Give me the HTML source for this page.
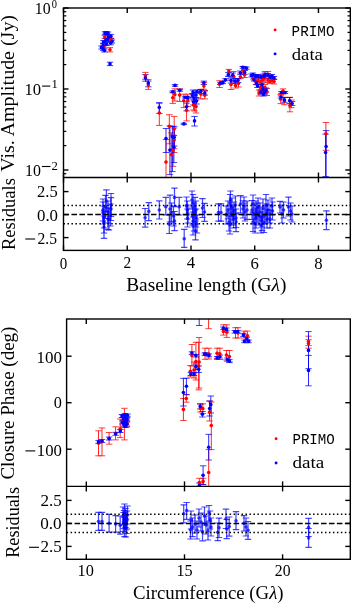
<!DOCTYPE html>
<html><head><meta charset="utf-8"><style>
html,body{margin:0;padding:0;background:#fff;width:351px;height:603px;overflow:hidden}
svg{display:block}
text{fill:#000}
svg{-webkit-font-smoothing:antialiased;will-change:transform}
</style></head><body>
<svg width="351" height="603" viewBox="0 0 351 603">
<defs>
<clipPath id="c1"><rect x="63.5" y="8" width="286.8" height="169.5"/></clipPath>
<clipPath id="c1r"><rect x="63.5" y="177.5" width="286.8" height="72.9"/></clipPath>
<clipPath id="c2"><rect x="66.6" y="319" width="283.7" height="167.4"/></clipPath>
<clipPath id="c2r"><rect x="66.6" y="486.4" width="283.7" height="72.9"/></clipPath>
</defs>
<g clip-path="url(#c1)">
<path d="M104.80 35.40V38.20" stroke="#ff0000" stroke-width="0.85" fill="none"/><path d="M101.60 35.40H108.00M101.60 38.20H108.00" stroke="#ff0000" stroke-width="0.75" fill="none"/>
<path d="M111.00 38.50V40.30" stroke="#ff0000" stroke-width="0.85" fill="none"/><path d="M107.80 38.50H114.20M107.80 40.30H114.20" stroke="#ff0000" stroke-width="0.75" fill="none"/>
<path d="M103.30 45.30V48.30" stroke="#ff0000" stroke-width="0.85" fill="none"/><path d="M100.10 45.30H106.50M100.10 48.30H106.50" stroke="#ff0000" stroke-width="0.75" fill="none"/>
<path d="M110.00 47.60V51.90" stroke="#ff0000" stroke-width="0.85" fill="none"/><path d="M106.80 47.60H113.20M106.80 51.90H113.20" stroke="#ff0000" stroke-width="0.75" fill="none"/>
<path d="M145.40 72.40V79.30" stroke="#ff0000" stroke-width="0.85" fill="none"/><path d="M142.20 72.40H148.60M142.20 79.30H148.60" stroke="#ff0000" stroke-width="0.75" fill="none"/>
<path d="M148.30 81.20V89.40" stroke="#ff0000" stroke-width="0.85" fill="none"/><path d="M145.10 81.20H151.50M145.10 89.40H151.50" stroke="#ff0000" stroke-width="0.75" fill="none"/>
<path d="M159.30 103.60V125.40" stroke="#ff0000" stroke-width="0.85" fill="none"/><path d="M156.10 103.60H162.50M156.10 125.40H162.50" stroke="#ff0000" stroke-width="0.75" fill="none"/>
<path d="M166.00 139.50V190.00" stroke="#ff0000" stroke-width="0.85" fill="none"/><path d="M162.80 139.50H169.20M162.80 190.00H169.20" stroke="#ff0000" stroke-width="0.75" fill="none"/>
<path d="M169.30 114.70V143.80" stroke="#ff0000" stroke-width="0.85" fill="none"/><path d="M166.10 114.70H172.50M166.10 143.80H172.50" stroke="#ff0000" stroke-width="0.75" fill="none"/>
<path d="M174.20 116.40V148.80" stroke="#ff0000" stroke-width="0.85" fill="none"/><path d="M171.00 116.40H177.40M171.00 148.80H177.40" stroke="#ff0000" stroke-width="0.75" fill="none"/>
<path d="M171.30 132.90V190.00" stroke="#ff0000" stroke-width="0.85" fill="none"/><path d="M168.10 132.90H174.50M168.10 190.00H174.50" stroke="#ff0000" stroke-width="0.75" fill="none"/>
<path d="M173.00 135.00V166.30" stroke="#ff0000" stroke-width="0.85" fill="none"/><path d="M169.80 135.00H176.20M169.80 166.30H176.20" stroke="#ff0000" stroke-width="0.75" fill="none"/>
<path d="M174.20 128.00V152.50" stroke="#ff0000" stroke-width="0.85" fill="none"/><path d="M171.00 128.00H177.40M171.00 152.50H177.40" stroke="#ff0000" stroke-width="0.75" fill="none"/>
<path d="M174.80 88.80V101.00" stroke="#ff0000" stroke-width="0.85" fill="none"/><path d="M171.60 88.80H178.00M171.60 101.00H178.00" stroke="#ff0000" stroke-width="0.75" fill="none"/>
<path d="M172.80 92.30V103.40" stroke="#ff0000" stroke-width="0.85" fill="none"/><path d="M169.60 92.30H176.00M169.60 103.40H176.00" stroke="#ff0000" stroke-width="0.75" fill="none"/>
<path d="M179.70 88.80V101.50" stroke="#ff0000" stroke-width="0.85" fill="none"/><path d="M176.50 88.80H182.90M176.50 101.50H182.90" stroke="#ff0000" stroke-width="0.75" fill="none"/>
<path d="M183.80 94.20V107.60" stroke="#ff0000" stroke-width="0.85" fill="none"/><path d="M180.60 94.20H187.00M180.60 107.60H187.00" stroke="#ff0000" stroke-width="0.75" fill="none"/>
<path d="M187.80 94.20V106.50" stroke="#ff0000" stroke-width="0.85" fill="none"/><path d="M184.60 94.20H191.00M184.60 106.50H191.00" stroke="#ff0000" stroke-width="0.75" fill="none"/>
<path d="M186.60 101.50V120.90" stroke="#ff0000" stroke-width="0.85" fill="none"/><path d="M183.40 101.50H189.80M183.40 120.90H189.80" stroke="#ff0000" stroke-width="0.75" fill="none"/>
<path d="M193.50 100.00V110.00" stroke="#ff0000" stroke-width="0.85" fill="none"/><path d="M190.30 100.00H196.70M190.30 110.00H196.70" stroke="#ff0000" stroke-width="0.75" fill="none"/>
<path d="M196.00 100.00V113.00" stroke="#ff0000" stroke-width="0.85" fill="none"/><path d="M192.80 100.00H199.20M192.80 113.00H199.20" stroke="#ff0000" stroke-width="0.75" fill="none"/>
<path d="M194.50 97.00V111.00" stroke="#ff0000" stroke-width="0.85" fill="none"/><path d="M191.30 97.00H197.70M191.30 111.00H197.70" stroke="#ff0000" stroke-width="0.75" fill="none"/>
<path d="M203.90 82.50V89.30" stroke="#ff0000" stroke-width="0.85" fill="none"/><path d="M200.70 82.50H207.10M200.70 89.30H207.10" stroke="#ff0000" stroke-width="0.75" fill="none"/>
<path d="M200.70 89.30V98.90" stroke="#ff0000" stroke-width="0.85" fill="none"/><path d="M197.50 89.30H203.90M197.50 98.90H203.90" stroke="#ff0000" stroke-width="0.75" fill="none"/>
<path d="M204.80 90.50V98.90" stroke="#ff0000" stroke-width="0.85" fill="none"/><path d="M201.60 90.50H208.00M201.60 98.90H208.00" stroke="#ff0000" stroke-width="0.75" fill="none"/>
<path d="M219.50 80.70V87.50" stroke="#ff0000" stroke-width="0.85" fill="none"/><path d="M216.30 80.70H222.70M216.30 87.50H222.70" stroke="#ff0000" stroke-width="0.75" fill="none"/>
<path d="M228.80 69.40V75.80" stroke="#ff0000" stroke-width="0.85" fill="none"/><path d="M225.60 69.40H232.00M225.60 75.80H232.00" stroke="#ff0000" stroke-width="0.75" fill="none"/>
<path d="M233.50 71.50V82.00" stroke="#ff0000" stroke-width="0.85" fill="none"/><path d="M230.30 71.50H236.70M230.30 82.00H236.70" stroke="#ff0000" stroke-width="0.75" fill="none"/>
<path d="M231.00 80.00V89.50" stroke="#ff0000" stroke-width="0.85" fill="none"/><path d="M227.80 80.00H234.20M227.80 89.50H234.20" stroke="#ff0000" stroke-width="0.75" fill="none"/>
<path d="M235.50 81.00V88.00" stroke="#ff0000" stroke-width="0.85" fill="none"/><path d="M232.30 81.00H238.70M232.30 88.00H238.70" stroke="#ff0000" stroke-width="0.75" fill="none"/>
<path d="M238.50 79.00V87.00" stroke="#ff0000" stroke-width="0.85" fill="none"/><path d="M235.30 79.00H241.70M235.30 87.00H241.70" stroke="#ff0000" stroke-width="0.75" fill="none"/>
<path d="M242.90 66.40V73.00" stroke="#ff0000" stroke-width="0.85" fill="none"/><path d="M239.70 66.40H246.10M239.70 73.00H246.10" stroke="#ff0000" stroke-width="0.75" fill="none"/>
<path d="M244.60 70.00V77.50" stroke="#ff0000" stroke-width="0.85" fill="none"/><path d="M241.40 70.00H247.80M241.40 77.50H247.80" stroke="#ff0000" stroke-width="0.75" fill="none"/>
<path d="M240.40 73.00V78.50" stroke="#ff0000" stroke-width="0.85" fill="none"/><path d="M237.20 73.00H243.60M237.20 78.50H243.60" stroke="#ff0000" stroke-width="0.75" fill="none"/>
<path d="M253.50 76.70V79.70" stroke="#ff0000" stroke-width="0.85" fill="none"/><path d="M250.30 76.70H256.70M250.30 79.70H256.70" stroke="#ff0000" stroke-width="0.75" fill="none"/>
<path d="M263.00 74.10V82.00" stroke="#ff0000" stroke-width="0.85" fill="none"/><path d="M259.80 74.10H266.20M259.80 82.00H266.20" stroke="#ff0000" stroke-width="0.75" fill="none"/>
<path d="M268.00 71.50V82.50" stroke="#ff0000" stroke-width="0.85" fill="none"/><path d="M264.80 71.50H271.20M264.80 82.50H271.20" stroke="#ff0000" stroke-width="0.75" fill="none"/>
<path d="M272.00 77.00V82.20" stroke="#ff0000" stroke-width="0.85" fill="none"/><path d="M268.80 77.00H275.20M268.80 82.20H275.20" stroke="#ff0000" stroke-width="0.75" fill="none"/>
<path d="M265.00 71.50V81.00" stroke="#ff0000" stroke-width="0.85" fill="none"/><path d="M261.80 71.50H268.20M261.80 81.00H268.20" stroke="#ff0000" stroke-width="0.75" fill="none"/>
<path d="M260.40 84.00V91.00" stroke="#ff0000" stroke-width="0.85" fill="none"/><path d="M257.20 84.00H263.60M257.20 91.00H263.60" stroke="#ff0000" stroke-width="0.75" fill="none"/>
<path d="M266.80 88.50V95.50" stroke="#ff0000" stroke-width="0.85" fill="none"/><path d="M263.60 88.50H270.00M263.60 95.50H270.00" stroke="#ff0000" stroke-width="0.75" fill="none"/>
<path d="M265.10 84.50V91.00" stroke="#ff0000" stroke-width="0.85" fill="none"/><path d="M261.90 84.50H268.30M261.90 91.00H268.30" stroke="#ff0000" stroke-width="0.75" fill="none"/>
<path d="M258.00 77.50V82.50" stroke="#ff0000" stroke-width="0.85" fill="none"/><path d="M254.80 77.50H261.20M254.80 82.50H261.20" stroke="#ff0000" stroke-width="0.75" fill="none"/>
<path d="M261.00 78.00V84.00" stroke="#ff0000" stroke-width="0.85" fill="none"/><path d="M257.80 78.00H264.20M257.80 84.00H264.20" stroke="#ff0000" stroke-width="0.75" fill="none"/>
<path d="M270.00 78.50V83.50" stroke="#ff0000" stroke-width="0.85" fill="none"/><path d="M266.80 78.50H273.20M266.80 83.50H273.20" stroke="#ff0000" stroke-width="0.75" fill="none"/>
<path d="M274.00 79.00V84.00" stroke="#ff0000" stroke-width="0.85" fill="none"/><path d="M270.80 79.00H277.20M270.80 84.00H277.20" stroke="#ff0000" stroke-width="0.75" fill="none"/>
<path d="M256.00 80.00V84.50" stroke="#ff0000" stroke-width="0.85" fill="none"/><path d="M252.80 80.00H259.20M252.80 84.50H259.20" stroke="#ff0000" stroke-width="0.75" fill="none"/>
<path d="M262.00 87.00V93.00" stroke="#ff0000" stroke-width="0.85" fill="none"/><path d="M258.80 87.00H265.20M258.80 93.00H265.20" stroke="#ff0000" stroke-width="0.75" fill="none"/>
<path d="M259.00 90.00V96.00" stroke="#ff0000" stroke-width="0.85" fill="none"/><path d="M255.80 90.00H262.20M255.80 96.00H262.20" stroke="#ff0000" stroke-width="0.75" fill="none"/>
<path d="M283.00 88.90V94.00" stroke="#ff0000" stroke-width="0.85" fill="none"/><path d="M279.80 88.90H286.20M279.80 94.00H286.20" stroke="#ff0000" stroke-width="0.75" fill="none"/>
<path d="M280.70 94.50V103.60" stroke="#ff0000" stroke-width="0.85" fill="none"/><path d="M277.50 94.50H283.90M277.50 103.60H283.90" stroke="#ff0000" stroke-width="0.75" fill="none"/>
<path d="M284.40 97.30V104.70" stroke="#ff0000" stroke-width="0.85" fill="none"/><path d="M281.20 97.30H287.60M281.20 104.70H287.60" stroke="#ff0000" stroke-width="0.75" fill="none"/>
<path d="M289.90 97.30V111.80" stroke="#ff0000" stroke-width="0.85" fill="none"/><path d="M286.70 97.30H293.10M286.70 111.80H293.10" stroke="#ff0000" stroke-width="0.75" fill="none"/>
<path d="M291.50 100.00V107.70" stroke="#ff0000" stroke-width="0.85" fill="none"/><path d="M288.30 100.00H294.70M288.30 107.70H294.70" stroke="#ff0000" stroke-width="0.75" fill="none"/>
<path d="M325.90 122.50V150.30" stroke="#ff0000" stroke-width="0.85" fill="none"/><path d="M322.70 122.50H329.10M322.70 150.30H329.10" stroke="#ff0000" stroke-width="0.75" fill="none"/>
<path d="M106.40 31.60V34.40" stroke="#0000ff" stroke-width="0.85" fill="none"/><path d="M103.20 31.60H109.60M103.20 34.40H109.60" stroke="#0000ff" stroke-width="0.75" fill="none"/>
<path d="M111.00 34.40V38.40" stroke="#0000ff" stroke-width="0.85" fill="none"/><path d="M107.80 34.40H114.20M107.80 38.40H114.20" stroke="#0000ff" stroke-width="0.75" fill="none"/>
<path d="M105.70 38.60V41.80" stroke="#0000ff" stroke-width="0.85" fill="none"/><path d="M102.50 38.60H108.90M102.50 41.80H108.90" stroke="#0000ff" stroke-width="0.75" fill="none"/>
<path d="M110.60 41.40V44.80" stroke="#0000ff" stroke-width="0.85" fill="none"/><path d="M107.40 41.40H113.80M107.40 44.80H113.80" stroke="#0000ff" stroke-width="0.75" fill="none"/>
<path d="M103.20 43.20V46.80" stroke="#0000ff" stroke-width="0.85" fill="none"/><path d="M100.00 43.20H106.40M100.00 46.80H106.40" stroke="#0000ff" stroke-width="0.75" fill="none"/>
<path d="M103.20 47.20V50.60" stroke="#0000ff" stroke-width="0.85" fill="none"/><path d="M100.00 47.20H106.40M100.00 50.60H106.40" stroke="#0000ff" stroke-width="0.75" fill="none"/>
<path d="M110.00 62.20V65.60" stroke="#0000ff" stroke-width="0.85" fill="none"/><path d="M106.80 62.20H113.20M106.80 65.60H113.20" stroke="#0000ff" stroke-width="0.75" fill="none"/>
<path d="M105.00 31.80V34.20" stroke="#0000ff" stroke-width="0.85" fill="none"/><path d="M101.80 31.80H108.20M101.80 34.20H108.20" stroke="#0000ff" stroke-width="0.75" fill="none"/>
<path d="M108.00 32.00V34.60" stroke="#0000ff" stroke-width="0.85" fill="none"/><path d="M104.80 32.00H111.20M104.80 34.60H111.20" stroke="#0000ff" stroke-width="0.75" fill="none"/>
<path d="M108.50 35.50V38.50" stroke="#0000ff" stroke-width="0.85" fill="none"/><path d="M105.30 35.50H111.70M105.30 38.50H111.70" stroke="#0000ff" stroke-width="0.75" fill="none"/>
<path d="M107.50 38.00V41.00" stroke="#0000ff" stroke-width="0.85" fill="none"/><path d="M104.30 38.00H110.70M104.30 41.00H110.70" stroke="#0000ff" stroke-width="0.75" fill="none"/>
<path d="M103.50 40.50V43.50" stroke="#0000ff" stroke-width="0.85" fill="none"/><path d="M100.30 40.50H106.70M100.30 43.50H106.70" stroke="#0000ff" stroke-width="0.75" fill="none"/>
<path d="M112.00 40.00V43.00" stroke="#0000ff" stroke-width="0.85" fill="none"/><path d="M108.80 40.00H115.20M108.80 43.00H115.20" stroke="#0000ff" stroke-width="0.75" fill="none"/>
<path d="M106.50 42.50V45.50" stroke="#0000ff" stroke-width="0.85" fill="none"/><path d="M103.30 42.50H109.70M103.30 45.50H109.70" stroke="#0000ff" stroke-width="0.75" fill="none"/>
<path d="M101.50 46.00V49.00" stroke="#0000ff" stroke-width="0.85" fill="none"/><path d="M98.30 46.00H104.70M98.30 49.00H104.70" stroke="#0000ff" stroke-width="0.75" fill="none"/>
<path d="M104.50 49.00V52.00" stroke="#0000ff" stroke-width="0.85" fill="none"/><path d="M101.30 49.00H107.70M101.30 52.00H107.70" stroke="#0000ff" stroke-width="0.75" fill="none"/>
<path d="M145.40 74.60V81.20" stroke="#0000ff" stroke-width="0.85" fill="none"/><path d="M142.20 74.60H148.60M142.20 81.20H148.60" stroke="#0000ff" stroke-width="0.75" fill="none"/>
<path d="M148.30 79.80V86.80" stroke="#0000ff" stroke-width="0.85" fill="none"/><path d="M145.10 79.80H151.50M145.10 86.80H151.50" stroke="#0000ff" stroke-width="0.75" fill="none"/>
<path d="M159.30 102.60V113.40" stroke="#0000ff" stroke-width="0.85" fill="none"/><path d="M156.10 102.60H162.50M156.10 113.40H162.50" stroke="#0000ff" stroke-width="0.75" fill="none"/>
<path d="M166.00 128.50V152.50" stroke="#0000ff" stroke-width="0.85" fill="none"/><path d="M162.80 128.50H169.20M162.80 152.50H169.20" stroke="#0000ff" stroke-width="0.75" fill="none"/>
<path d="M174.20 126.30V146.00" stroke="#0000ff" stroke-width="0.85" fill="none"/><path d="M171.00 126.30H177.40M171.00 146.00H177.40" stroke="#0000ff" stroke-width="0.75" fill="none"/>
<path d="M173.90 135.60V162.60" stroke="#0000ff" stroke-width="0.85" fill="none"/><path d="M170.70 135.60H177.10M170.70 162.60H177.10" stroke="#0000ff" stroke-width="0.75" fill="none"/>
<path d="M169.90 126.00V174.60" stroke="#0000ff" stroke-width="0.85" fill="none"/><path d="M166.70 126.00H173.10M166.70 174.60H173.10" stroke="#0000ff" stroke-width="0.75" fill="none"/>
<path d="M172.40 126.50V171.60" stroke="#0000ff" stroke-width="0.85" fill="none"/><path d="M169.20 126.50H175.60M169.20 171.60H175.60" stroke="#0000ff" stroke-width="0.75" fill="none"/>
<path d="M175.00 84.60V86.30" stroke="#0000ff" stroke-width="0.85" fill="none"/><path d="M171.80 84.60H178.20M171.80 86.30H178.20" stroke="#0000ff" stroke-width="0.75" fill="none"/>
<path d="M172.80 90.90V92.80" stroke="#0000ff" stroke-width="0.85" fill="none"/><path d="M169.60 90.90H176.00M169.60 92.80H176.00" stroke="#0000ff" stroke-width="0.75" fill="none"/>
<path d="M179.80 89.30V91.20" stroke="#0000ff" stroke-width="0.85" fill="none"/><path d="M176.60 89.30H183.00M176.60 91.20H183.00" stroke="#0000ff" stroke-width="0.75" fill="none"/>
<path d="M185.40 96.40V98.00" stroke="#0000ff" stroke-width="0.85" fill="none"/><path d="M182.20 96.40H188.60M182.20 98.00H188.60" stroke="#0000ff" stroke-width="0.75" fill="none"/>
<path d="M187.50 96.60V98.20" stroke="#0000ff" stroke-width="0.85" fill="none"/><path d="M184.30 96.60H190.70M184.30 98.20H190.70" stroke="#0000ff" stroke-width="0.75" fill="none"/>
<path d="M186.60 103.10V110.90" stroke="#0000ff" stroke-width="0.85" fill="none"/><path d="M183.40 103.10H189.80M183.40 110.90H189.80" stroke="#0000ff" stroke-width="0.75" fill="none"/>
<path d="M183.90 123.20V124.60" stroke="#0000ff" stroke-width="0.85" fill="none"/><path d="M180.70 123.20H187.10M180.70 124.60H187.10" stroke="#0000ff" stroke-width="0.75" fill="none"/>
<path d="M194.50 116.40V126.00" stroke="#0000ff" stroke-width="0.85" fill="none"/><path d="M191.30 116.40H197.70M191.30 126.00H197.70" stroke="#0000ff" stroke-width="0.75" fill="none"/>
<path d="M193.00 90.00V94.00" stroke="#0000ff" stroke-width="0.85" fill="none"/><path d="M189.80 90.00H196.20M189.80 94.00H196.20" stroke="#0000ff" stroke-width="0.75" fill="none"/>
<path d="M196.00 92.50V97.50" stroke="#0000ff" stroke-width="0.85" fill="none"/><path d="M192.80 92.50H199.20M192.80 97.50H199.20" stroke="#0000ff" stroke-width="0.75" fill="none"/>
<path d="M194.00 95.00V101.00" stroke="#0000ff" stroke-width="0.85" fill="none"/><path d="M190.80 95.00H197.20M190.80 101.00H197.20" stroke="#0000ff" stroke-width="0.75" fill="none"/>
<path d="M196.50 98.00V104.00" stroke="#0000ff" stroke-width="0.85" fill="none"/><path d="M193.30 98.00H199.70M193.30 104.00H199.70" stroke="#0000ff" stroke-width="0.75" fill="none"/>
<path d="M193.50 99.00V105.00" stroke="#0000ff" stroke-width="0.85" fill="none"/><path d="M190.30 99.00H196.70M190.30 105.00H196.70" stroke="#0000ff" stroke-width="0.75" fill="none"/>
<path d="M192.50 93.50V97.50" stroke="#0000ff" stroke-width="0.85" fill="none"/><path d="M189.30 93.50H195.70M189.30 97.50H195.70" stroke="#0000ff" stroke-width="0.75" fill="none"/>
<path d="M197.00 90.00V93.00" stroke="#0000ff" stroke-width="0.85" fill="none"/><path d="M193.80 90.00H200.20M193.80 93.00H200.20" stroke="#0000ff" stroke-width="0.75" fill="none"/>
<path d="M203.90 81.10V84.50" stroke="#0000ff" stroke-width="0.85" fill="none"/><path d="M200.70 81.10H207.10M200.70 84.50H207.10" stroke="#0000ff" stroke-width="0.75" fill="none"/>
<path d="M200.70 89.50V93.50" stroke="#0000ff" stroke-width="0.85" fill="none"/><path d="M197.50 89.50H203.90M197.50 93.50H203.90" stroke="#0000ff" stroke-width="0.75" fill="none"/>
<path d="M204.80 91.00V95.00" stroke="#0000ff" stroke-width="0.85" fill="none"/><path d="M201.60 91.00H208.00M201.60 95.00H208.00" stroke="#0000ff" stroke-width="0.75" fill="none"/>
<path d="M220.30 82.30V84.30" stroke="#0000ff" stroke-width="0.85" fill="none"/><path d="M217.10 82.30H223.50M217.10 84.30H223.50" stroke="#0000ff" stroke-width="0.75" fill="none"/>
<path d="M228.40 72.50V76.50" stroke="#0000ff" stroke-width="0.85" fill="none"/><path d="M225.20 72.50H231.60M225.20 76.50H231.60" stroke="#0000ff" stroke-width="0.75" fill="none"/>
<path d="M232.70 73.00V77.00" stroke="#0000ff" stroke-width="0.85" fill="none"/><path d="M229.50 73.00H235.90M229.50 77.00H235.90" stroke="#0000ff" stroke-width="0.75" fill="none"/>
<path d="M225.40 78.70V80.70" stroke="#0000ff" stroke-width="0.85" fill="none"/><path d="M222.20 78.70H228.60M222.20 80.70H228.60" stroke="#0000ff" stroke-width="0.75" fill="none"/>
<path d="M222.90 81.60V83.60" stroke="#0000ff" stroke-width="0.85" fill="none"/><path d="M219.70 81.60H226.10M219.70 83.60H226.10" stroke="#0000ff" stroke-width="0.75" fill="none"/>
<path d="M231.00 78.00V83.00" stroke="#0000ff" stroke-width="0.85" fill="none"/><path d="M227.80 78.00H234.20M227.80 83.00H234.20" stroke="#0000ff" stroke-width="0.75" fill="none"/>
<path d="M235.00 78.50V83.50" stroke="#0000ff" stroke-width="0.85" fill="none"/><path d="M231.80 78.50H238.20M231.80 83.50H238.20" stroke="#0000ff" stroke-width="0.75" fill="none"/>
<path d="M238.00 78.50V82.50" stroke="#0000ff" stroke-width="0.85" fill="none"/><path d="M234.80 78.50H241.20M234.80 82.50H241.20" stroke="#0000ff" stroke-width="0.75" fill="none"/>
<path d="M240.40 71.00V74.60" stroke="#0000ff" stroke-width="0.85" fill="none"/><path d="M237.20 71.00H243.60M237.20 74.60H243.60" stroke="#0000ff" stroke-width="0.75" fill="none"/>
<path d="M242.90 66.50V68.30" stroke="#0000ff" stroke-width="0.85" fill="none"/><path d="M239.70 66.50H246.10M239.70 68.30H246.10" stroke="#0000ff" stroke-width="0.75" fill="none"/>
<path d="M244.60 70.50V74.30" stroke="#0000ff" stroke-width="0.85" fill="none"/><path d="M241.40 70.50H247.80M241.40 74.30H247.80" stroke="#0000ff" stroke-width="0.75" fill="none"/>
<path d="M246.40 67.00V69.20" stroke="#0000ff" stroke-width="0.85" fill="none"/><path d="M243.20 67.00H249.60M243.20 69.20H249.60" stroke="#0000ff" stroke-width="0.75" fill="none"/>
<path d="M253.00 73.00V76.00" stroke="#0000ff" stroke-width="0.85" fill="none"/><path d="M249.80 73.00H256.20M249.80 76.00H256.20" stroke="#0000ff" stroke-width="0.75" fill="none"/>
<path d="M255.50 74.50V77.50" stroke="#0000ff" stroke-width="0.85" fill="none"/><path d="M252.30 74.50H258.70M252.30 77.50H258.70" stroke="#0000ff" stroke-width="0.75" fill="none"/>
<path d="M254.00 78.50V81.00" stroke="#0000ff" stroke-width="0.85" fill="none"/><path d="M250.80 78.50H257.20M250.80 81.00H257.20" stroke="#0000ff" stroke-width="0.75" fill="none"/>
<path d="M261.00 75.50V78.50" stroke="#0000ff" stroke-width="0.85" fill="none"/><path d="M257.80 75.50H264.20M257.80 78.50H264.20" stroke="#0000ff" stroke-width="0.75" fill="none"/>
<path d="M268.00 73.50V76.50" stroke="#0000ff" stroke-width="0.85" fill="none"/><path d="M264.80 73.50H271.20M264.80 76.50H271.20" stroke="#0000ff" stroke-width="0.75" fill="none"/>
<path d="M272.00 74.50V77.50" stroke="#0000ff" stroke-width="0.85" fill="none"/><path d="M268.80 74.50H275.20M268.80 77.50H275.20" stroke="#0000ff" stroke-width="0.75" fill="none"/>
<path d="M265.00 73.00V76.00" stroke="#0000ff" stroke-width="0.85" fill="none"/><path d="M261.80 73.00H268.20M261.80 76.00H268.20" stroke="#0000ff" stroke-width="0.75" fill="none"/>
<path d="M256.50 81.50V84.70" stroke="#0000ff" stroke-width="0.85" fill="none"/><path d="M253.30 81.50H259.70M253.30 84.70H259.70" stroke="#0000ff" stroke-width="0.75" fill="none"/>
<path d="M262.10 83.00V86.60" stroke="#0000ff" stroke-width="0.85" fill="none"/><path d="M258.90 83.00H265.30M258.90 86.60H265.30" stroke="#0000ff" stroke-width="0.75" fill="none"/>
<path d="M263.00 87.00V91.00" stroke="#0000ff" stroke-width="0.85" fill="none"/><path d="M259.80 87.00H266.20M259.80 91.00H266.20" stroke="#0000ff" stroke-width="0.75" fill="none"/>
<path d="M260.80 89.80V94.20" stroke="#0000ff" stroke-width="0.85" fill="none"/><path d="M257.60 89.80H264.00M257.60 94.20H264.00" stroke="#0000ff" stroke-width="0.75" fill="none"/>
<path d="M264.50 90.80V94.20" stroke="#0000ff" stroke-width="0.85" fill="none"/><path d="M261.30 90.80H267.70M261.30 94.20H267.70" stroke="#0000ff" stroke-width="0.75" fill="none"/>
<path d="M258.00 74.50V77.50" stroke="#0000ff" stroke-width="0.85" fill="none"/><path d="M254.80 74.50H261.20M254.80 77.50H261.20" stroke="#0000ff" stroke-width="0.75" fill="none"/>
<path d="M264.00 75.00V78.00" stroke="#0000ff" stroke-width="0.85" fill="none"/><path d="M260.80 75.00H267.20M260.80 78.00H267.20" stroke="#0000ff" stroke-width="0.75" fill="none"/>
<path d="M270.00 75.50V78.50" stroke="#0000ff" stroke-width="0.85" fill="none"/><path d="M266.80 75.50H273.20M266.80 78.50H273.20" stroke="#0000ff" stroke-width="0.75" fill="none"/>
<path d="M274.00 76.50V79.50" stroke="#0000ff" stroke-width="0.85" fill="none"/><path d="M270.80 76.50H277.20M270.80 79.50H277.20" stroke="#0000ff" stroke-width="0.75" fill="none"/>
<path d="M251.50 74.00V77.00" stroke="#0000ff" stroke-width="0.85" fill="none"/><path d="M248.30 74.00H254.70M248.30 77.00H254.70" stroke="#0000ff" stroke-width="0.75" fill="none"/>
<path d="M257.50 84.50V87.50" stroke="#0000ff" stroke-width="0.85" fill="none"/><path d="M254.30 84.50H260.70M254.30 87.50H260.70" stroke="#0000ff" stroke-width="0.75" fill="none"/>
<path d="M266.00 88.00V92.00" stroke="#0000ff" stroke-width="0.85" fill="none"/><path d="M262.80 88.00H269.20M262.80 92.00H269.20" stroke="#0000ff" stroke-width="0.75" fill="none"/>
<path d="M263.50 93.00V96.00" stroke="#0000ff" stroke-width="0.85" fill="none"/><path d="M260.30 93.00H266.70M260.30 96.00H266.70" stroke="#0000ff" stroke-width="0.75" fill="none"/>
<path d="M281.50 91.50V93.50" stroke="#0000ff" stroke-width="0.85" fill="none"/><path d="M278.30 91.50H284.70M278.30 93.50H284.70" stroke="#0000ff" stroke-width="0.75" fill="none"/>
<path d="M285.00 91.50V93.50" stroke="#0000ff" stroke-width="0.85" fill="none"/><path d="M281.80 91.50H288.20M281.80 93.50H288.20" stroke="#0000ff" stroke-width="0.75" fill="none"/>
<path d="M280.90 95.90V98.10" stroke="#0000ff" stroke-width="0.85" fill="none"/><path d="M277.70 95.90H284.10M277.70 98.10H284.10" stroke="#0000ff" stroke-width="0.75" fill="none"/>
<path d="M284.40 97.50V102.30" stroke="#0000ff" stroke-width="0.85" fill="none"/><path d="M281.20 97.50H287.60M281.20 102.30H287.60" stroke="#0000ff" stroke-width="0.75" fill="none"/>
<path d="M289.60 97.50V103.50" stroke="#0000ff" stroke-width="0.85" fill="none"/><path d="M286.40 97.50H292.80M286.40 103.50H292.80" stroke="#0000ff" stroke-width="0.75" fill="none"/>
<path d="M292.10 101.50V105.50" stroke="#0000ff" stroke-width="0.85" fill="none"/><path d="M288.90 101.50H295.30M288.90 105.50H295.30" stroke="#0000ff" stroke-width="0.75" fill="none"/>
<path d="M326.10 130.60V190.00" stroke="#0000ff" stroke-width="0.85" fill="none"/><path d="M322.90 130.60H329.30M322.90 190.00H329.30" stroke="#0000ff" stroke-width="0.75" fill="none"/>
<path d="M325.60 134.10V176.60" stroke="#0000ff" stroke-width="0.85" fill="none"/><path d="M322.40 134.10H328.80M322.40 176.60H328.80" stroke="#0000ff" stroke-width="0.75" fill="none"/>
<circle cx="104.80" cy="36.80" r="1.8" fill="#ff0000"/>
<circle cx="111.00" cy="39.40" r="1.8" fill="#ff0000"/>
<circle cx="103.30" cy="46.80" r="1.8" fill="#ff0000"/>
<circle cx="110.00" cy="49.70" r="1.8" fill="#ff0000"/>
<circle cx="145.40" cy="75.70" r="1.8" fill="#ff0000"/>
<circle cx="148.30" cy="85.10" r="1.8" fill="#ff0000"/>
<circle cx="159.30" cy="113.00" r="1.8" fill="#ff0000"/>
<circle cx="166.00" cy="162.00" r="1.8" fill="#ff0000"/>
<circle cx="169.30" cy="126.30" r="1.8" fill="#ff0000"/>
<circle cx="174.20" cy="128.90" r="1.8" fill="#ff0000"/>
<circle cx="171.30" cy="154.80" r="1.8" fill="#ff0000"/>
<circle cx="173.00" cy="150.00" r="1.8" fill="#ff0000"/>
<circle cx="174.20" cy="140.00" r="1.8" fill="#ff0000"/>
<circle cx="174.80" cy="94.50" r="1.8" fill="#ff0000"/>
<circle cx="172.80" cy="97.70" r="1.8" fill="#ff0000"/>
<circle cx="179.70" cy="95.10" r="1.8" fill="#ff0000"/>
<circle cx="183.80" cy="100.70" r="1.8" fill="#ff0000"/>
<circle cx="187.80" cy="100.10" r="1.8" fill="#ff0000"/>
<circle cx="186.60" cy="110.30" r="1.8" fill="#ff0000"/>
<circle cx="193.50" cy="105.00" r="1.8" fill="#ff0000"/>
<circle cx="196.00" cy="106.50" r="1.8" fill="#ff0000"/>
<circle cx="194.50" cy="103.50" r="1.8" fill="#ff0000"/>
<circle cx="203.90" cy="86.10" r="1.8" fill="#ff0000"/>
<circle cx="200.70" cy="93.90" r="1.8" fill="#ff0000"/>
<circle cx="204.80" cy="95.20" r="1.8" fill="#ff0000"/>
<circle cx="219.50" cy="84.20" r="1.8" fill="#ff0000"/>
<circle cx="228.80" cy="71.10" r="1.8" fill="#ff0000"/>
<circle cx="233.50" cy="76.50" r="1.8" fill="#ff0000"/>
<circle cx="231.00" cy="84.50" r="1.8" fill="#ff0000"/>
<circle cx="235.50" cy="85.50" r="1.8" fill="#ff0000"/>
<circle cx="238.50" cy="83.50" r="1.8" fill="#ff0000"/>
<circle cx="242.90" cy="69.80" r="1.8" fill="#ff0000"/>
<circle cx="244.60" cy="75.00" r="1.8" fill="#ff0000"/>
<circle cx="240.40" cy="76.70" r="1.8" fill="#ff0000"/>
<circle cx="253.50" cy="78.20" r="1.8" fill="#ff0000"/>
<circle cx="263.00" cy="79.50" r="1.8" fill="#ff0000"/>
<circle cx="268.00" cy="80.00" r="1.8" fill="#ff0000"/>
<circle cx="272.00" cy="80.50" r="1.8" fill="#ff0000"/>
<circle cx="265.00" cy="78.00" r="1.8" fill="#ff0000"/>
<circle cx="260.40" cy="87.40" r="1.8" fill="#ff0000"/>
<circle cx="266.80" cy="92.00" r="1.8" fill="#ff0000"/>
<circle cx="265.10" cy="87.80" r="1.8" fill="#ff0000"/>
<circle cx="258.00" cy="80.00" r="1.8" fill="#ff0000"/>
<circle cx="261.00" cy="81.00" r="1.8" fill="#ff0000"/>
<circle cx="270.00" cy="81.00" r="1.8" fill="#ff0000"/>
<circle cx="274.00" cy="81.50" r="1.8" fill="#ff0000"/>
<circle cx="256.00" cy="82.00" r="1.8" fill="#ff0000"/>
<circle cx="262.00" cy="90.00" r="1.8" fill="#ff0000"/>
<circle cx="259.00" cy="93.00" r="1.8" fill="#ff0000"/>
<circle cx="283.00" cy="91.00" r="1.8" fill="#ff0000"/>
<circle cx="280.70" cy="99.20" r="1.8" fill="#ff0000"/>
<circle cx="284.40" cy="101.00" r="1.8" fill="#ff0000"/>
<circle cx="289.90" cy="105.50" r="1.8" fill="#ff0000"/>
<circle cx="291.50" cy="104.00" r="1.8" fill="#ff0000"/>
<circle cx="325.90" cy="133.80" r="1.8" fill="#ff0000"/>
<circle cx="106.40" cy="33.00" r="1.8" fill="#0000ff"/>
<circle cx="111.00" cy="36.40" r="1.8" fill="#0000ff"/>
<circle cx="105.70" cy="40.20" r="1.8" fill="#0000ff"/>
<circle cx="110.60" cy="43.10" r="1.8" fill="#0000ff"/>
<circle cx="103.20" cy="45.00" r="1.8" fill="#0000ff"/>
<circle cx="103.20" cy="48.90" r="1.8" fill="#0000ff"/>
<circle cx="110.00" cy="63.90" r="1.8" fill="#0000ff"/>
<circle cx="105.00" cy="33.00" r="1.8" fill="#0000ff"/>
<circle cx="108.00" cy="33.30" r="1.8" fill="#0000ff"/>
<circle cx="108.50" cy="37.00" r="1.8" fill="#0000ff"/>
<circle cx="107.50" cy="39.50" r="1.8" fill="#0000ff"/>
<circle cx="103.50" cy="42.00" r="1.8" fill="#0000ff"/>
<circle cx="112.00" cy="41.50" r="1.8" fill="#0000ff"/>
<circle cx="106.50" cy="44.00" r="1.8" fill="#0000ff"/>
<circle cx="101.50" cy="47.50" r="1.8" fill="#0000ff"/>
<circle cx="104.50" cy="50.50" r="1.8" fill="#0000ff"/>
<circle cx="145.40" cy="78.00" r="1.8" fill="#0000ff"/>
<circle cx="148.30" cy="83.10" r="1.8" fill="#0000ff"/>
<circle cx="159.30" cy="107.40" r="1.8" fill="#0000ff"/>
<circle cx="166.00" cy="138.50" r="1.8" fill="#0000ff"/>
<circle cx="174.20" cy="137.20" r="1.8" fill="#0000ff"/>
<circle cx="173.90" cy="147.20" r="1.8" fill="#0000ff"/>
<circle cx="169.90" cy="150.10" r="1.8" fill="#0000ff"/>
<circle cx="172.40" cy="136.70" r="1.8" fill="#0000ff"/>
<circle cx="175.00" cy="85.40" r="1.8" fill="#0000ff"/>
<circle cx="172.80" cy="91.80" r="1.8" fill="#0000ff"/>
<circle cx="179.80" cy="90.20" r="1.8" fill="#0000ff"/>
<circle cx="185.40" cy="97.20" r="1.8" fill="#0000ff"/>
<circle cx="187.50" cy="97.40" r="1.8" fill="#0000ff"/>
<circle cx="186.60" cy="106.80" r="1.8" fill="#0000ff"/>
<circle cx="183.90" cy="123.90" r="1.8" fill="#0000ff"/>
<circle cx="194.50" cy="120.90" r="1.8" fill="#0000ff"/>
<circle cx="193.00" cy="92.00" r="1.8" fill="#0000ff"/>
<circle cx="196.00" cy="95.00" r="1.8" fill="#0000ff"/>
<circle cx="194.00" cy="98.00" r="1.8" fill="#0000ff"/>
<circle cx="196.50" cy="101.00" r="1.8" fill="#0000ff"/>
<circle cx="193.50" cy="102.00" r="1.8" fill="#0000ff"/>
<circle cx="192.50" cy="95.50" r="1.8" fill="#0000ff"/>
<circle cx="197.00" cy="91.50" r="1.8" fill="#0000ff"/>
<circle cx="203.90" cy="82.90" r="1.8" fill="#0000ff"/>
<circle cx="200.70" cy="91.60" r="1.8" fill="#0000ff"/>
<circle cx="204.80" cy="93.00" r="1.8" fill="#0000ff"/>
<circle cx="220.30" cy="83.30" r="1.8" fill="#0000ff"/>
<circle cx="228.40" cy="74.50" r="1.8" fill="#0000ff"/>
<circle cx="232.70" cy="75.00" r="1.8" fill="#0000ff"/>
<circle cx="225.40" cy="79.70" r="1.8" fill="#0000ff"/>
<circle cx="222.90" cy="82.60" r="1.8" fill="#0000ff"/>
<circle cx="231.00" cy="80.50" r="1.8" fill="#0000ff"/>
<circle cx="235.00" cy="81.00" r="1.8" fill="#0000ff"/>
<circle cx="238.00" cy="80.50" r="1.8" fill="#0000ff"/>
<circle cx="240.40" cy="72.80" r="1.8" fill="#0000ff"/>
<circle cx="242.90" cy="67.30" r="1.8" fill="#0000ff"/>
<circle cx="244.60" cy="72.40" r="1.8" fill="#0000ff"/>
<circle cx="246.40" cy="68.10" r="1.8" fill="#0000ff"/>
<circle cx="253.00" cy="74.50" r="1.8" fill="#0000ff"/>
<circle cx="255.50" cy="76.00" r="1.8" fill="#0000ff"/>
<circle cx="254.00" cy="79.70" r="1.8" fill="#0000ff"/>
<circle cx="261.00" cy="77.00" r="1.8" fill="#0000ff"/>
<circle cx="268.00" cy="75.00" r="1.8" fill="#0000ff"/>
<circle cx="272.00" cy="76.00" r="1.8" fill="#0000ff"/>
<circle cx="265.00" cy="74.50" r="1.8" fill="#0000ff"/>
<circle cx="256.50" cy="83.10" r="1.8" fill="#0000ff"/>
<circle cx="262.10" cy="84.80" r="1.8" fill="#0000ff"/>
<circle cx="263.00" cy="89.10" r="1.8" fill="#0000ff"/>
<circle cx="260.80" cy="92.00" r="1.8" fill="#0000ff"/>
<circle cx="264.50" cy="92.50" r="1.8" fill="#0000ff"/>
<circle cx="258.00" cy="76.00" r="1.8" fill="#0000ff"/>
<circle cx="264.00" cy="76.50" r="1.8" fill="#0000ff"/>
<circle cx="270.00" cy="77.00" r="1.8" fill="#0000ff"/>
<circle cx="274.00" cy="78.00" r="1.8" fill="#0000ff"/>
<circle cx="251.50" cy="75.50" r="1.8" fill="#0000ff"/>
<circle cx="257.50" cy="86.00" r="1.8" fill="#0000ff"/>
<circle cx="266.00" cy="90.00" r="1.8" fill="#0000ff"/>
<circle cx="263.50" cy="94.50" r="1.8" fill="#0000ff"/>
<circle cx="281.50" cy="92.50" r="1.8" fill="#0000ff"/>
<circle cx="285.00" cy="92.50" r="1.8" fill="#0000ff"/>
<circle cx="280.90" cy="97.00" r="1.8" fill="#0000ff"/>
<circle cx="284.40" cy="99.90" r="1.8" fill="#0000ff"/>
<circle cx="289.60" cy="100.70" r="1.8" fill="#0000ff"/>
<circle cx="292.10" cy="103.60" r="1.8" fill="#0000ff"/>
<circle cx="326.10" cy="146.50" r="1.8" fill="#0000ff"/>
<circle cx="325.60" cy="152.60" r="1.8" fill="#0000ff"/>
</g>
<g clip-path="url(#c1r)">
<path d="M106.40 189.90V212.00" stroke="#0000ff" stroke-width="1.25" fill="none" stroke-opacity="0.72"/><path d="M103.20 189.90H109.60M103.20 212.00H109.60" stroke="#0000ff" stroke-width="1.2" fill="none" stroke-opacity="0.72"/>
<path d="M111.00 193.50V216.50" stroke="#0000ff" stroke-width="1.25" fill="none" stroke-opacity="0.72"/><path d="M107.80 193.50H114.20M107.80 216.50H114.20" stroke="#0000ff" stroke-width="1.2" fill="none" stroke-opacity="0.72"/>
<path d="M105.50 195.30V218.50" stroke="#0000ff" stroke-width="1.25" fill="none" stroke-opacity="0.72"/><path d="M102.30 195.30H108.70M102.30 218.50H108.70" stroke="#0000ff" stroke-width="1.2" fill="none" stroke-opacity="0.72"/>
<path d="M111.00 197.70V220.50" stroke="#0000ff" stroke-width="1.25" fill="none" stroke-opacity="0.72"/><path d="M107.80 197.70H114.20M107.80 220.50H114.20" stroke="#0000ff" stroke-width="1.2" fill="none" stroke-opacity="0.72"/>
<path d="M103.00 202.00V224.00" stroke="#0000ff" stroke-width="1.25" fill="none" stroke-opacity="0.72"/><path d="M99.80 202.00H106.20M99.80 224.00H106.20" stroke="#0000ff" stroke-width="1.2" fill="none" stroke-opacity="0.72"/>
<path d="M108.00 201.00V223.00" stroke="#0000ff" stroke-width="1.25" fill="none" stroke-opacity="0.72"/><path d="M104.80 201.00H111.20M104.80 223.00H111.20" stroke="#0000ff" stroke-width="1.2" fill="none" stroke-opacity="0.72"/>
<path d="M104.00 206.00V228.00" stroke="#0000ff" stroke-width="1.25" fill="none" stroke-opacity="0.72"/><path d="M100.80 206.00H107.20M100.80 228.00H107.20" stroke="#0000ff" stroke-width="1.2" fill="none" stroke-opacity="0.72"/>
<path d="M110.50 204.00V226.00" stroke="#0000ff" stroke-width="1.25" fill="none" stroke-opacity="0.72"/><path d="M107.30 204.00H113.70M107.30 226.00H113.70" stroke="#0000ff" stroke-width="1.2" fill="none" stroke-opacity="0.72"/>
<path d="M104.00 211.00V233.00" stroke="#0000ff" stroke-width="1.25" fill="none" stroke-opacity="0.72"/><path d="M100.80 211.00H107.20M100.80 233.00H107.20" stroke="#0000ff" stroke-width="1.2" fill="none" stroke-opacity="0.72"/>
<path d="M109.00 208.00V230.00" stroke="#0000ff" stroke-width="1.25" fill="none" stroke-opacity="0.72"/><path d="M105.80 208.00H112.20M105.80 230.00H112.20" stroke="#0000ff" stroke-width="1.2" fill="none" stroke-opacity="0.72"/>
<path d="M104.00 216.00V238.30" stroke="#0000ff" stroke-width="1.25" fill="none" stroke-opacity="0.72"/><path d="M100.80 216.00H107.20M100.80 238.30H107.20" stroke="#0000ff" stroke-width="1.2" fill="none" stroke-opacity="0.72"/>
<path d="M103.00 199.00V221.00" stroke="#0000ff" stroke-width="1.25" fill="none" stroke-opacity="0.72"/><path d="M99.80 199.00H106.20M99.80 221.00H106.20" stroke="#0000ff" stroke-width="1.2" fill="none" stroke-opacity="0.72"/>
<path d="M108.00 208.00V229.70" stroke="#0000ff" stroke-width="1.25" fill="none" stroke-opacity="0.72"/><path d="M104.80 208.00H111.20M104.80 229.70H111.20" stroke="#0000ff" stroke-width="1.2" fill="none" stroke-opacity="0.72"/>
<path d="M148.80 202.70V220.70" stroke="#0000ff" stroke-width="1.25" fill="none" stroke-opacity="0.72"/><path d="M145.60 202.70H152.00M145.60 220.70H152.00" stroke="#0000ff" stroke-width="1.2" fill="none" stroke-opacity="0.72"/>
<path d="M145.10 208.50V227.10" stroke="#0000ff" stroke-width="1.25" fill="none" stroke-opacity="0.72"/><path d="M141.90 208.50H148.30M141.90 227.10H148.30" stroke="#0000ff" stroke-width="1.2" fill="none" stroke-opacity="0.72"/>
<path d="M159.30 200.90V219.00" stroke="#0000ff" stroke-width="1.25" fill="none" stroke-opacity="0.72"/><path d="M156.10 200.90H162.50M156.10 219.00H162.50" stroke="#0000ff" stroke-width="1.2" fill="none" stroke-opacity="0.72"/>
<path d="M165.80 197.40V215.00" stroke="#0000ff" stroke-width="1.25" fill="none" stroke-opacity="0.72"/><path d="M162.60 197.40H169.00M162.60 215.00H169.00" stroke="#0000ff" stroke-width="1.2" fill="none" stroke-opacity="0.72"/>
<path d="M174.50 188.10V206.70" stroke="#0000ff" stroke-width="1.25" fill="none" stroke-opacity="0.72"/><path d="M171.30 188.10H177.70M171.30 206.70H177.70" stroke="#0000ff" stroke-width="1.2" fill="none" stroke-opacity="0.72"/>
<path d="M179.20 197.40V215.00" stroke="#0000ff" stroke-width="1.25" fill="none" stroke-opacity="0.72"/><path d="M176.00 197.40H182.40M176.00 215.00H182.40" stroke="#0000ff" stroke-width="1.2" fill="none" stroke-opacity="0.72"/>
<path d="M171.50 203.00V222.00" stroke="#0000ff" stroke-width="1.25" fill="none" stroke-opacity="0.72"/><path d="M168.30 203.00H174.70M168.30 222.00H174.70" stroke="#0000ff" stroke-width="1.2" fill="none" stroke-opacity="0.72"/>
<path d="M173.50 206.00V226.00" stroke="#0000ff" stroke-width="1.25" fill="none" stroke-opacity="0.72"/><path d="M170.30 206.00H176.70M170.30 226.00H176.70" stroke="#0000ff" stroke-width="1.2" fill="none" stroke-opacity="0.72"/>
<path d="M169.30 215.00V233.50" stroke="#0000ff" stroke-width="1.25" fill="none" stroke-opacity="0.72"/><path d="M166.10 215.00H172.50M166.10 233.50H172.50" stroke="#0000ff" stroke-width="1.2" fill="none" stroke-opacity="0.72"/>
<path d="M174.50 211.50V230.60" stroke="#0000ff" stroke-width="1.25" fill="none" stroke-opacity="0.72"/><path d="M171.30 211.50H177.70M171.30 230.60H177.70" stroke="#0000ff" stroke-width="1.2" fill="none" stroke-opacity="0.72"/>
<path d="M170.00 195.10V222.00" stroke="#0000ff" stroke-width="1.25" fill="none" stroke-opacity="0.72"/><path d="M166.80 195.10H173.20M166.80 222.00H173.20" stroke="#0000ff" stroke-width="1.2" fill="none" stroke-opacity="0.72"/>
<path d="M184.20 229.40V247.40" stroke="#0000ff" stroke-width="1.25" fill="none" stroke-opacity="0.72"/><path d="M181.00 229.40H187.40M181.00 247.40H187.40" stroke="#0000ff" stroke-width="1.2" fill="none" stroke-opacity="0.72"/>
<path d="M187.30 201.00V219.00" stroke="#0000ff" stroke-width="1.25" fill="none" stroke-opacity="0.72"/><path d="M184.10 201.00H190.50M184.10 219.00H190.50" stroke="#0000ff" stroke-width="1.2" fill="none" stroke-opacity="0.72"/>
<path d="M187.50 209.00V227.00" stroke="#0000ff" stroke-width="1.25" fill="none" stroke-opacity="0.72"/><path d="M184.30 209.00H190.70M184.30 227.00H190.70" stroke="#0000ff" stroke-width="1.2" fill="none" stroke-opacity="0.72"/>
<path d="M186.50 197.00V215.00" stroke="#0000ff" stroke-width="1.25" fill="none" stroke-opacity="0.72"/><path d="M183.30 197.00H189.70M183.30 215.00H189.70" stroke="#0000ff" stroke-width="1.2" fill="none" stroke-opacity="0.72"/>
<path d="M188.00 205.00V223.00" stroke="#0000ff" stroke-width="1.25" fill="none" stroke-opacity="0.72"/><path d="M184.80 205.00H191.20M184.80 223.00H191.20" stroke="#0000ff" stroke-width="1.2" fill="none" stroke-opacity="0.72"/>
<path d="M193.00 194.50V212.00" stroke="#0000ff" stroke-width="1.25" fill="none" stroke-opacity="0.72"/><path d="M189.80 194.50H196.20M189.80 212.00H196.20" stroke="#0000ff" stroke-width="1.2" fill="none" stroke-opacity="0.72"/>
<path d="M195.00 197.40V215.00" stroke="#0000ff" stroke-width="1.25" fill="none" stroke-opacity="0.72"/><path d="M191.80 197.40H198.20M191.80 215.00H198.20" stroke="#0000ff" stroke-width="1.2" fill="none" stroke-opacity="0.72"/>
<path d="M194.00 203.00V221.00" stroke="#0000ff" stroke-width="1.25" fill="none" stroke-opacity="0.72"/><path d="M190.80 203.00H197.20M190.80 221.00H197.20" stroke="#0000ff" stroke-width="1.2" fill="none" stroke-opacity="0.72"/>
<path d="M196.00 209.00V227.00" stroke="#0000ff" stroke-width="1.25" fill="none" stroke-opacity="0.72"/><path d="M192.80 209.00H199.20M192.80 227.00H199.20" stroke="#0000ff" stroke-width="1.2" fill="none" stroke-opacity="0.72"/>
<path d="M194.00 213.00V231.00" stroke="#0000ff" stroke-width="1.25" fill="none" stroke-opacity="0.72"/><path d="M190.80 213.00H197.20M190.80 231.00H197.20" stroke="#0000ff" stroke-width="1.2" fill="none" stroke-opacity="0.72"/>
<path d="M195.50 221.00V239.90" stroke="#0000ff" stroke-width="1.25" fill="none" stroke-opacity="0.72"/><path d="M192.30 221.00H198.70M192.30 239.90H198.70" stroke="#0000ff" stroke-width="1.2" fill="none" stroke-opacity="0.72"/>
<path d="M193.00 217.00V235.00" stroke="#0000ff" stroke-width="1.25" fill="none" stroke-opacity="0.72"/><path d="M189.80 217.00H196.20M189.80 235.00H196.20" stroke="#0000ff" stroke-width="1.2" fill="none" stroke-opacity="0.72"/>
<path d="M202.50 198.60V217.50" stroke="#0000ff" stroke-width="1.25" fill="none" stroke-opacity="0.72"/><path d="M199.30 198.60H205.70M199.30 217.50H205.70" stroke="#0000ff" stroke-width="1.2" fill="none" stroke-opacity="0.72"/>
<path d="M204.50 203.30V221.30" stroke="#0000ff" stroke-width="1.25" fill="none" stroke-opacity="0.72"/><path d="M201.30 203.30H207.70M201.30 221.30H207.70" stroke="#0000ff" stroke-width="1.2" fill="none" stroke-opacity="0.72"/>
<path d="M218.50 203.80V221.20" stroke="#0000ff" stroke-width="1.25" fill="none" stroke-opacity="0.72"/><path d="M215.30 203.80H221.70M215.30 221.20H221.70" stroke="#0000ff" stroke-width="1.2" fill="none" stroke-opacity="0.72"/>
<path d="M221.00 203.80V221.20" stroke="#0000ff" stroke-width="1.25" fill="none" stroke-opacity="0.72"/><path d="M217.80 203.80H224.20M217.80 221.20H224.20" stroke="#0000ff" stroke-width="1.2" fill="none" stroke-opacity="0.72"/>
<path d="M226.20 206.00V224.00" stroke="#0000ff" stroke-width="1.25" fill="none" stroke-opacity="0.72"/><path d="M223.00 206.00H229.40M223.00 224.00H229.40" stroke="#0000ff" stroke-width="1.2" fill="none" stroke-opacity="0.72"/>
<path d="M230.00 194.50V212.00" stroke="#0000ff" stroke-width="1.25" fill="none" stroke-opacity="0.72"/><path d="M226.80 194.50H233.20M226.80 212.00H233.20" stroke="#0000ff" stroke-width="1.2" fill="none" stroke-opacity="0.72"/>
<path d="M232.00 198.00V216.00" stroke="#0000ff" stroke-width="1.25" fill="none" stroke-opacity="0.72"/><path d="M228.80 198.00H235.20M228.80 216.00H235.20" stroke="#0000ff" stroke-width="1.2" fill="none" stroke-opacity="0.72"/>
<path d="M234.00 202.00V220.00" stroke="#0000ff" stroke-width="1.25" fill="none" stroke-opacity="0.72"/><path d="M230.80 202.00H237.20M230.80 220.00H237.20" stroke="#0000ff" stroke-width="1.2" fill="none" stroke-opacity="0.72"/>
<path d="M231.00 205.00V223.00" stroke="#0000ff" stroke-width="1.25" fill="none" stroke-opacity="0.72"/><path d="M227.80 205.00H234.20M227.80 223.00H234.20" stroke="#0000ff" stroke-width="1.2" fill="none" stroke-opacity="0.72"/>
<path d="M229.00 213.00V231.00" stroke="#0000ff" stroke-width="1.25" fill="none" stroke-opacity="0.72"/><path d="M225.80 213.00H232.20M225.80 231.00H232.20" stroke="#0000ff" stroke-width="1.2" fill="none" stroke-opacity="0.72"/>
<path d="M230.00 216.00V234.00" stroke="#0000ff" stroke-width="1.25" fill="none" stroke-opacity="0.72"/><path d="M226.80 216.00H233.20M226.80 234.00H233.20" stroke="#0000ff" stroke-width="1.2" fill="none" stroke-opacity="0.72"/>
<path d="M236.00 209.00V227.50" stroke="#0000ff" stroke-width="1.25" fill="none" stroke-opacity="0.72"/><path d="M232.80 209.00H239.20M232.80 227.50H239.20" stroke="#0000ff" stroke-width="1.2" fill="none" stroke-opacity="0.72"/>
<path d="M236.00 213.00V231.60" stroke="#0000ff" stroke-width="1.25" fill="none" stroke-opacity="0.72"/><path d="M232.80 213.00H239.20M232.80 231.60H239.20" stroke="#0000ff" stroke-width="1.2" fill="none" stroke-opacity="0.72"/>
<path d="M233.00 207.00V225.00" stroke="#0000ff" stroke-width="1.25" fill="none" stroke-opacity="0.72"/><path d="M229.80 207.00H236.20M229.80 225.00H236.20" stroke="#0000ff" stroke-width="1.2" fill="none" stroke-opacity="0.72"/>
<path d="M240.50 195.70V213.00" stroke="#0000ff" stroke-width="1.25" fill="none" stroke-opacity="0.72"/><path d="M237.30 195.70H243.70M237.30 213.00H243.70" stroke="#0000ff" stroke-width="1.2" fill="none" stroke-opacity="0.72"/>
<path d="M243.00 200.90V218.00" stroke="#0000ff" stroke-width="1.25" fill="none" stroke-opacity="0.72"/><path d="M239.80 200.90H246.20M239.80 218.00H246.20" stroke="#0000ff" stroke-width="1.2" fill="none" stroke-opacity="0.72"/>
<path d="M245.00 203.00V221.00" stroke="#0000ff" stroke-width="1.25" fill="none" stroke-opacity="0.72"/><path d="M241.80 203.00H248.20M241.80 221.00H248.20" stroke="#0000ff" stroke-width="1.2" fill="none" stroke-opacity="0.72"/>
<path d="M247.00 201.00V219.40" stroke="#0000ff" stroke-width="1.25" fill="none" stroke-opacity="0.72"/><path d="M243.80 201.00H250.20M243.80 219.40H250.20" stroke="#0000ff" stroke-width="1.2" fill="none" stroke-opacity="0.72"/>
<path d="M244.00 197.00V215.00" stroke="#0000ff" stroke-width="1.25" fill="none" stroke-opacity="0.72"/><path d="M240.80 197.00H247.20M240.80 215.00H247.20" stroke="#0000ff" stroke-width="1.2" fill="none" stroke-opacity="0.72"/>
<path d="M252.00 200.50V219.50" stroke="#0000ff" stroke-width="1.25" fill="none" stroke-opacity="0.72"/><path d="M248.80 200.50H255.20M248.80 219.50H255.20" stroke="#0000ff" stroke-width="1.2" fill="none" stroke-opacity="0.72"/>
<path d="M254.00 204.00V224.00" stroke="#0000ff" stroke-width="1.25" fill="none" stroke-opacity="0.72"/><path d="M250.80 204.00H257.20M250.80 224.00H257.20" stroke="#0000ff" stroke-width="1.2" fill="none" stroke-opacity="0.72"/>
<path d="M256.00 208.00V228.00" stroke="#0000ff" stroke-width="1.25" fill="none" stroke-opacity="0.72"/><path d="M252.80 208.00H259.20M252.80 228.00H259.20" stroke="#0000ff" stroke-width="1.2" fill="none" stroke-opacity="0.72"/>
<path d="M253.00 212.00V231.50" stroke="#0000ff" stroke-width="1.25" fill="none" stroke-opacity="0.72"/><path d="M249.80 212.00H256.20M249.80 231.50H256.20" stroke="#0000ff" stroke-width="1.2" fill="none" stroke-opacity="0.72"/>
<path d="M258.00 198.00V216.00" stroke="#0000ff" stroke-width="1.25" fill="none" stroke-opacity="0.72"/><path d="M254.80 198.00H261.20M254.80 216.00H261.20" stroke="#0000ff" stroke-width="1.2" fill="none" stroke-opacity="0.72"/>
<path d="M260.00 203.00V221.00" stroke="#0000ff" stroke-width="1.25" fill="none" stroke-opacity="0.72"/><path d="M256.80 203.00H263.20M256.80 221.00H263.20" stroke="#0000ff" stroke-width="1.2" fill="none" stroke-opacity="0.72"/>
<path d="M262.00 209.00V227.00" stroke="#0000ff" stroke-width="1.25" fill="none" stroke-opacity="0.72"/><path d="M258.80 209.00H265.20M258.80 227.00H265.20" stroke="#0000ff" stroke-width="1.2" fill="none" stroke-opacity="0.72"/>
<path d="M264.00 214.00V232.50" stroke="#0000ff" stroke-width="1.25" fill="none" stroke-opacity="0.72"/><path d="M260.80 214.00H267.20M260.80 232.50H267.20" stroke="#0000ff" stroke-width="1.2" fill="none" stroke-opacity="0.72"/>
<path d="M266.00 194.50V215.00" stroke="#0000ff" stroke-width="1.25" fill="none" stroke-opacity="0.72"/><path d="M262.80 194.50H269.20M262.80 215.00H269.20" stroke="#0000ff" stroke-width="1.2" fill="none" stroke-opacity="0.72"/>
<path d="M268.00 200.00V220.00" stroke="#0000ff" stroke-width="1.25" fill="none" stroke-opacity="0.72"/><path d="M264.80 200.00H271.20M264.80 220.00H271.20" stroke="#0000ff" stroke-width="1.2" fill="none" stroke-opacity="0.72"/>
<path d="M270.00 205.00V223.00" stroke="#0000ff" stroke-width="1.25" fill="none" stroke-opacity="0.72"/><path d="M266.80 205.00H273.20M266.80 223.00H273.20" stroke="#0000ff" stroke-width="1.2" fill="none" stroke-opacity="0.72"/>
<path d="M272.00 198.00V215.00" stroke="#0000ff" stroke-width="1.25" fill="none" stroke-opacity="0.72"/><path d="M268.80 198.00H275.20M268.80 215.00H275.20" stroke="#0000ff" stroke-width="1.2" fill="none" stroke-opacity="0.72"/>
<path d="M265.00 206.00V224.00" stroke="#0000ff" stroke-width="1.25" fill="none" stroke-opacity="0.72"/><path d="M261.80 206.00H268.20M261.80 224.00H268.20" stroke="#0000ff" stroke-width="1.2" fill="none" stroke-opacity="0.72"/>
<path d="M261.00 216.00V233.00" stroke="#0000ff" stroke-width="1.25" fill="none" stroke-opacity="0.72"/><path d="M257.80 216.00H264.20M257.80 233.00H264.20" stroke="#0000ff" stroke-width="1.2" fill="none" stroke-opacity="0.72"/>
<path d="M267.00 210.00V228.00" stroke="#0000ff" stroke-width="1.25" fill="none" stroke-opacity="0.72"/><path d="M263.80 210.00H270.20M263.80 228.00H270.20" stroke="#0000ff" stroke-width="1.2" fill="none" stroke-opacity="0.72"/>
<path d="M257.00 203.00V223.00" stroke="#0000ff" stroke-width="1.25" fill="none" stroke-opacity="0.72"/><path d="M253.80 203.00H260.20M253.80 223.00H260.20" stroke="#0000ff" stroke-width="1.2" fill="none" stroke-opacity="0.72"/>
<path d="M280.00 201.40V213.00" stroke="#0000ff" stroke-width="1.25" fill="none" stroke-opacity="0.72"/><path d="M276.80 201.40H283.20M276.80 213.00H283.20" stroke="#0000ff" stroke-width="1.2" fill="none" stroke-opacity="0.72"/>
<path d="M282.00 205.00V223.00" stroke="#0000ff" stroke-width="1.25" fill="none" stroke-opacity="0.72"/><path d="M278.80 205.00H285.20M278.80 223.00H285.20" stroke="#0000ff" stroke-width="1.2" fill="none" stroke-opacity="0.72"/>
<path d="M283.50 202.00V218.00" stroke="#0000ff" stroke-width="1.25" fill="none" stroke-opacity="0.72"/><path d="M280.30 202.00H286.70M280.30 218.00H286.70" stroke="#0000ff" stroke-width="1.2" fill="none" stroke-opacity="0.72"/>
<path d="M288.50 197.10V216.00" stroke="#0000ff" stroke-width="1.25" fill="none" stroke-opacity="0.72"/><path d="M285.30 197.10H291.70M285.30 216.00H291.70" stroke="#0000ff" stroke-width="1.2" fill="none" stroke-opacity="0.72"/>
<path d="M290.50 203.00V220.00" stroke="#0000ff" stroke-width="1.25" fill="none" stroke-opacity="0.72"/><path d="M287.30 203.00H293.70M287.30 220.00H293.70" stroke="#0000ff" stroke-width="1.2" fill="none" stroke-opacity="0.72"/>
<path d="M292.00 206.00V222.00" stroke="#0000ff" stroke-width="1.25" fill="none" stroke-opacity="0.72"/><path d="M288.80 206.00H295.20M288.80 222.00H295.20" stroke="#0000ff" stroke-width="1.2" fill="none" stroke-opacity="0.72"/>
<path d="M326.40 210.80V229.60" stroke="#0000ff" stroke-width="1.25" fill="none" stroke-opacity="0.72"/><path d="M323.20 210.80H329.60M323.20 229.60H329.60" stroke="#0000ff" stroke-width="1.2" fill="none" stroke-opacity="0.72"/>
<path d="M192.00 191.00V209.00" stroke="#0000ff" stroke-width="1.25" fill="none" stroke-opacity="0.72"/><path d="M188.80 191.00H195.20M188.80 209.00H195.20" stroke="#0000ff" stroke-width="1.2" fill="none" stroke-opacity="0.72"/>
<path d="M196.00 201.00V219.00" stroke="#0000ff" stroke-width="1.25" fill="none" stroke-opacity="0.72"/><path d="M192.80 201.00H199.20M192.80 219.00H199.20" stroke="#0000ff" stroke-width="1.2" fill="none" stroke-opacity="0.72"/>
<path d="M192.50 207.00V225.00" stroke="#0000ff" stroke-width="1.25" fill="none" stroke-opacity="0.72"/><path d="M189.30 207.00H195.70M189.30 225.00H195.70" stroke="#0000ff" stroke-width="1.2" fill="none" stroke-opacity="0.72"/>
<path d="M197.00 215.00V233.00" stroke="#0000ff" stroke-width="1.25" fill="none" stroke-opacity="0.72"/><path d="M193.80 215.00H200.20M193.80 233.00H200.20" stroke="#0000ff" stroke-width="1.2" fill="none" stroke-opacity="0.72"/>
<path d="M230.50 191.00V209.00" stroke="#0000ff" stroke-width="1.25" fill="none" stroke-opacity="0.72"/><path d="M227.30 191.00H233.70M227.30 209.00H233.70" stroke="#0000ff" stroke-width="1.2" fill="none" stroke-opacity="0.72"/>
<path d="M233.50 210.00V228.00" stroke="#0000ff" stroke-width="1.25" fill="none" stroke-opacity="0.72"/><path d="M230.30 210.00H236.70M230.30 228.00H236.70" stroke="#0000ff" stroke-width="1.2" fill="none" stroke-opacity="0.72"/>
<path d="M228.00 201.00V219.00" stroke="#0000ff" stroke-width="1.25" fill="none" stroke-opacity="0.72"/><path d="M224.80 201.00H231.20M224.80 219.00H231.20" stroke="#0000ff" stroke-width="1.2" fill="none" stroke-opacity="0.72"/>
<path d="M235.50 196.00V214.00" stroke="#0000ff" stroke-width="1.25" fill="none" stroke-opacity="0.72"/><path d="M232.30 196.00H238.70M232.30 214.00H238.70" stroke="#0000ff" stroke-width="1.2" fill="none" stroke-opacity="0.72"/>
<path d="M253.00 195.00V213.00" stroke="#0000ff" stroke-width="1.25" fill="none" stroke-opacity="0.72"/><path d="M249.80 195.00H256.20M249.80 213.00H256.20" stroke="#0000ff" stroke-width="1.2" fill="none" stroke-opacity="0.72"/>
<path d="M256.00 201.00V219.00" stroke="#0000ff" stroke-width="1.25" fill="none" stroke-opacity="0.72"/><path d="M252.80 201.00H259.20M252.80 219.00H259.20" stroke="#0000ff" stroke-width="1.2" fill="none" stroke-opacity="0.72"/>
<path d="M259.00 207.00V225.00" stroke="#0000ff" stroke-width="1.25" fill="none" stroke-opacity="0.72"/><path d="M255.80 207.00H262.20M255.80 225.00H262.20" stroke="#0000ff" stroke-width="1.2" fill="none" stroke-opacity="0.72"/>
<path d="M263.00 199.00V217.00" stroke="#0000ff" stroke-width="1.25" fill="none" stroke-opacity="0.72"/><path d="M259.80 199.00H266.20M259.80 217.00H266.20" stroke="#0000ff" stroke-width="1.2" fill="none" stroke-opacity="0.72"/>
<path d="M267.00 204.00V222.00" stroke="#0000ff" stroke-width="1.25" fill="none" stroke-opacity="0.72"/><path d="M263.80 204.00H270.20M263.80 222.00H270.20" stroke="#0000ff" stroke-width="1.2" fill="none" stroke-opacity="0.72"/>
<path d="M270.00 210.00V228.00" stroke="#0000ff" stroke-width="1.25" fill="none" stroke-opacity="0.72"/><path d="M266.80 210.00H273.20M266.80 228.00H273.20" stroke="#0000ff" stroke-width="1.2" fill="none" stroke-opacity="0.72"/>
<path d="M272.50 202.00V220.00" stroke="#0000ff" stroke-width="1.25" fill="none" stroke-opacity="0.72"/><path d="M269.30 202.00H275.70M269.30 220.00H275.70" stroke="#0000ff" stroke-width="1.2" fill="none" stroke-opacity="0.72"/>
<path d="M262.00 212.00V230.60" stroke="#0000ff" stroke-width="1.25" fill="none" stroke-opacity="0.72"/><path d="M258.80 212.00H265.20M258.80 230.60H265.20" stroke="#0000ff" stroke-width="1.2" fill="none" stroke-opacity="0.72"/>
<path d="M255.00 215.00V233.00" stroke="#0000ff" stroke-width="1.25" fill="none" stroke-opacity="0.72"/><path d="M251.80 215.00H258.20M251.80 233.00H258.20" stroke="#0000ff" stroke-width="1.2" fill="none" stroke-opacity="0.72"/>
<circle cx="106.40" cy="201.00" r="1.8" fill="#0000ff" fill-opacity="0.72"/>
<circle cx="111.00" cy="205.00" r="1.8" fill="#0000ff" fill-opacity="0.72"/>
<circle cx="105.50" cy="207.00" r="1.8" fill="#0000ff" fill-opacity="0.72"/>
<circle cx="111.00" cy="209.00" r="1.8" fill="#0000ff" fill-opacity="0.72"/>
<circle cx="103.00" cy="213.00" r="1.8" fill="#0000ff" fill-opacity="0.72"/>
<circle cx="108.00" cy="212.00" r="1.8" fill="#0000ff" fill-opacity="0.72"/>
<circle cx="104.00" cy="217.00" r="1.8" fill="#0000ff" fill-opacity="0.72"/>
<circle cx="110.50" cy="215.00" r="1.8" fill="#0000ff" fill-opacity="0.72"/>
<circle cx="104.00" cy="222.00" r="1.8" fill="#0000ff" fill-opacity="0.72"/>
<circle cx="109.00" cy="219.00" r="1.8" fill="#0000ff" fill-opacity="0.72"/>
<circle cx="104.00" cy="227.00" r="1.8" fill="#0000ff" fill-opacity="0.72"/>
<circle cx="103.00" cy="210.00" r="1.8" fill="#0000ff" fill-opacity="0.72"/>
<circle cx="108.00" cy="219.00" r="1.8" fill="#0000ff" fill-opacity="0.72"/>
<circle cx="148.80" cy="211.40" r="1.8" fill="#0000ff" fill-opacity="0.72"/>
<circle cx="145.10" cy="217.80" r="1.8" fill="#0000ff" fill-opacity="0.72"/>
<circle cx="159.30" cy="210.00" r="1.8" fill="#0000ff" fill-opacity="0.72"/>
<circle cx="165.80" cy="206.70" r="1.8" fill="#0000ff" fill-opacity="0.72"/>
<circle cx="174.50" cy="197.40" r="1.8" fill="#0000ff" fill-opacity="0.72"/>
<circle cx="179.20" cy="206.70" r="1.8" fill="#0000ff" fill-opacity="0.72"/>
<circle cx="171.50" cy="212.60" r="1.8" fill="#0000ff" fill-opacity="0.72"/>
<circle cx="173.50" cy="216.00" r="1.8" fill="#0000ff" fill-opacity="0.72"/>
<circle cx="169.30" cy="224.20" r="1.8" fill="#0000ff" fill-opacity="0.72"/>
<circle cx="174.50" cy="221.00" r="1.8" fill="#0000ff" fill-opacity="0.72"/>
<circle cx="170.00" cy="209.00" r="1.8" fill="#0000ff" fill-opacity="0.72"/>
<circle cx="184.20" cy="238.70" r="1.8" fill="#0000ff" fill-opacity="0.72"/>
<circle cx="187.30" cy="210.00" r="1.8" fill="#0000ff" fill-opacity="0.72"/>
<circle cx="187.50" cy="218.40" r="1.8" fill="#0000ff" fill-opacity="0.72"/>
<circle cx="186.50" cy="206.00" r="1.8" fill="#0000ff" fill-opacity="0.72"/>
<circle cx="188.00" cy="214.00" r="1.8" fill="#0000ff" fill-opacity="0.72"/>
<circle cx="193.00" cy="203.00" r="1.8" fill="#0000ff" fill-opacity="0.72"/>
<circle cx="195.00" cy="206.00" r="1.8" fill="#0000ff" fill-opacity="0.72"/>
<circle cx="194.00" cy="212.00" r="1.8" fill="#0000ff" fill-opacity="0.72"/>
<circle cx="196.00" cy="218.00" r="1.8" fill="#0000ff" fill-opacity="0.72"/>
<circle cx="194.00" cy="222.00" r="1.8" fill="#0000ff" fill-opacity="0.72"/>
<circle cx="195.50" cy="231.00" r="1.8" fill="#0000ff" fill-opacity="0.72"/>
<circle cx="193.00" cy="226.00" r="1.8" fill="#0000ff" fill-opacity="0.72"/>
<circle cx="202.50" cy="208.00" r="1.8" fill="#0000ff" fill-opacity="0.72"/>
<circle cx="204.50" cy="212.00" r="1.8" fill="#0000ff" fill-opacity="0.72"/>
<circle cx="218.50" cy="212.50" r="1.8" fill="#0000ff" fill-opacity="0.72"/>
<circle cx="221.00" cy="212.50" r="1.8" fill="#0000ff" fill-opacity="0.72"/>
<circle cx="226.20" cy="214.80" r="1.8" fill="#0000ff" fill-opacity="0.72"/>
<circle cx="230.00" cy="203.00" r="1.8" fill="#0000ff" fill-opacity="0.72"/>
<circle cx="232.00" cy="207.00" r="1.8" fill="#0000ff" fill-opacity="0.72"/>
<circle cx="234.00" cy="211.00" r="1.8" fill="#0000ff" fill-opacity="0.72"/>
<circle cx="231.00" cy="214.00" r="1.8" fill="#0000ff" fill-opacity="0.72"/>
<circle cx="229.00" cy="222.00" r="1.8" fill="#0000ff" fill-opacity="0.72"/>
<circle cx="230.00" cy="225.00" r="1.8" fill="#0000ff" fill-opacity="0.72"/>
<circle cx="236.00" cy="218.00" r="1.8" fill="#0000ff" fill-opacity="0.72"/>
<circle cx="236.00" cy="222.00" r="1.8" fill="#0000ff" fill-opacity="0.72"/>
<circle cx="233.00" cy="216.00" r="1.8" fill="#0000ff" fill-opacity="0.72"/>
<circle cx="240.50" cy="204.00" r="1.8" fill="#0000ff" fill-opacity="0.72"/>
<circle cx="243.00" cy="209.00" r="1.8" fill="#0000ff" fill-opacity="0.72"/>
<circle cx="245.00" cy="212.00" r="1.8" fill="#0000ff" fill-opacity="0.72"/>
<circle cx="247.00" cy="210.00" r="1.8" fill="#0000ff" fill-opacity="0.72"/>
<circle cx="244.00" cy="206.00" r="1.8" fill="#0000ff" fill-opacity="0.72"/>
<circle cx="252.00" cy="210.00" r="1.8" fill="#0000ff" fill-opacity="0.72"/>
<circle cx="254.00" cy="214.00" r="1.8" fill="#0000ff" fill-opacity="0.72"/>
<circle cx="256.00" cy="218.00" r="1.8" fill="#0000ff" fill-opacity="0.72"/>
<circle cx="253.00" cy="222.00" r="1.8" fill="#0000ff" fill-opacity="0.72"/>
<circle cx="258.00" cy="207.00" r="1.8" fill="#0000ff" fill-opacity="0.72"/>
<circle cx="260.00" cy="212.00" r="1.8" fill="#0000ff" fill-opacity="0.72"/>
<circle cx="262.00" cy="218.00" r="1.8" fill="#0000ff" fill-opacity="0.72"/>
<circle cx="264.00" cy="223.00" r="1.8" fill="#0000ff" fill-opacity="0.72"/>
<circle cx="266.00" cy="205.00" r="1.8" fill="#0000ff" fill-opacity="0.72"/>
<circle cx="268.00" cy="210.00" r="1.8" fill="#0000ff" fill-opacity="0.72"/>
<circle cx="270.00" cy="214.00" r="1.8" fill="#0000ff" fill-opacity="0.72"/>
<circle cx="272.00" cy="206.00" r="1.8" fill="#0000ff" fill-opacity="0.72"/>
<circle cx="265.00" cy="215.00" r="1.8" fill="#0000ff" fill-opacity="0.72"/>
<circle cx="261.00" cy="225.00" r="1.8" fill="#0000ff" fill-opacity="0.72"/>
<circle cx="267.00" cy="219.00" r="1.8" fill="#0000ff" fill-opacity="0.72"/>
<circle cx="257.00" cy="213.00" r="1.8" fill="#0000ff" fill-opacity="0.72"/>
<circle cx="280.00" cy="207.00" r="1.8" fill="#0000ff" fill-opacity="0.72"/>
<circle cx="282.00" cy="214.00" r="1.8" fill="#0000ff" fill-opacity="0.72"/>
<circle cx="283.50" cy="210.00" r="1.8" fill="#0000ff" fill-opacity="0.72"/>
<circle cx="288.50" cy="207.00" r="1.8" fill="#0000ff" fill-opacity="0.72"/>
<circle cx="290.50" cy="211.00" r="1.8" fill="#0000ff" fill-opacity="0.72"/>
<circle cx="292.00" cy="214.00" r="1.8" fill="#0000ff" fill-opacity="0.72"/>
<circle cx="326.40" cy="220.20" r="1.8" fill="#0000ff" fill-opacity="0.72"/>
<circle cx="192.00" cy="200.00" r="1.8" fill="#0000ff" fill-opacity="0.72"/>
<circle cx="196.00" cy="210.00" r="1.8" fill="#0000ff" fill-opacity="0.72"/>
<circle cx="192.50" cy="216.00" r="1.8" fill="#0000ff" fill-opacity="0.72"/>
<circle cx="197.00" cy="224.00" r="1.8" fill="#0000ff" fill-opacity="0.72"/>
<circle cx="230.50" cy="200.00" r="1.8" fill="#0000ff" fill-opacity="0.72"/>
<circle cx="233.50" cy="219.00" r="1.8" fill="#0000ff" fill-opacity="0.72"/>
<circle cx="228.00" cy="210.00" r="1.8" fill="#0000ff" fill-opacity="0.72"/>
<circle cx="235.50" cy="205.00" r="1.8" fill="#0000ff" fill-opacity="0.72"/>
<circle cx="253.00" cy="204.00" r="1.8" fill="#0000ff" fill-opacity="0.72"/>
<circle cx="256.00" cy="210.00" r="1.8" fill="#0000ff" fill-opacity="0.72"/>
<circle cx="259.00" cy="216.00" r="1.8" fill="#0000ff" fill-opacity="0.72"/>
<circle cx="263.00" cy="208.00" r="1.8" fill="#0000ff" fill-opacity="0.72"/>
<circle cx="267.00" cy="213.00" r="1.8" fill="#0000ff" fill-opacity="0.72"/>
<circle cx="270.00" cy="219.00" r="1.8" fill="#0000ff" fill-opacity="0.72"/>
<circle cx="272.50" cy="211.00" r="1.8" fill="#0000ff" fill-opacity="0.72"/>
<circle cx="262.00" cy="221.00" r="1.8" fill="#0000ff" fill-opacity="0.72"/>
<circle cx="255.00" cy="224.00" r="1.8" fill="#0000ff" fill-opacity="0.72"/>
</g>
<g clip-path="url(#c2)">
<path d="M98.50 430.80V455.80" stroke="#ff0000" stroke-width="0.85" fill="none"/><path d="M95.30 430.80H101.70M95.30 455.80H101.70" stroke="#ff0000" stroke-width="0.75" fill="none"/>
<path d="M102.00 427.90V455.80" stroke="#ff0000" stroke-width="0.85" fill="none"/><path d="M98.80 427.90H105.20M98.80 455.80H105.20" stroke="#ff0000" stroke-width="0.75" fill="none"/>
<path d="M109.10 432.50V444.20" stroke="#ff0000" stroke-width="0.85" fill="none"/><path d="M105.90 432.50H112.30M105.90 444.20H112.30" stroke="#ff0000" stroke-width="0.75" fill="none"/>
<path d="M115.60 426.80V439.90" stroke="#ff0000" stroke-width="0.85" fill="none"/><path d="M112.40 426.80H118.80M112.40 439.90H118.80" stroke="#ff0000" stroke-width="0.75" fill="none"/>
<path d="M120.20 419.00V437.60" stroke="#ff0000" stroke-width="0.85" fill="none"/><path d="M117.00 419.00H123.40M117.00 437.60H123.40" stroke="#ff0000" stroke-width="0.75" fill="none"/>
<path d="M124.40 408.30V439.90" stroke="#ff0000" stroke-width="0.85" fill="none"/><path d="M121.20 408.30H127.60M121.20 439.90H127.60" stroke="#ff0000" stroke-width="0.75" fill="none"/>
<path d="M122.80 415.00V426.00" stroke="#ff0000" stroke-width="0.85" fill="none"/><path d="M119.60 415.00H126.00M119.60 426.00H126.00" stroke="#ff0000" stroke-width="0.75" fill="none"/>
<path d="M127.00 419.00V427.00" stroke="#ff0000" stroke-width="0.85" fill="none"/><path d="M123.80 419.00H130.20M123.80 427.00H130.20" stroke="#ff0000" stroke-width="0.75" fill="none"/>
<path d="M208.60 290.00V328.70" stroke="#ff0000" stroke-width="0.85" fill="none"/><path d="M205.40 290.00H211.80M205.40 328.70H211.80" stroke="#ff0000" stroke-width="0.75" fill="none"/>
<path d="M199.10 337.50V388.00" stroke="#ff0000" stroke-width="0.85" fill="none"/><path d="M195.90 337.50H202.30M195.90 388.00H202.30" stroke="#ff0000" stroke-width="0.75" fill="none"/>
<path d="M191.90 344.50V366.00" stroke="#ff0000" stroke-width="0.85" fill="none"/><path d="M188.70 344.50H195.10M188.70 366.00H195.10" stroke="#ff0000" stroke-width="0.75" fill="none"/>
<path d="M195.90 342.30V380.00" stroke="#ff0000" stroke-width="0.85" fill="none"/><path d="M192.70 342.30H199.10M192.70 380.00H199.10" stroke="#ff0000" stroke-width="0.75" fill="none"/>
<path d="M198.70 342.30V389.90" stroke="#ff0000" stroke-width="0.85" fill="none"/><path d="M195.50 342.30H201.90M195.50 389.90H201.90" stroke="#ff0000" stroke-width="0.75" fill="none"/>
<path d="M194.00 362.00V378.00" stroke="#ff0000" stroke-width="0.85" fill="none"/><path d="M190.80 362.00H197.20M190.80 378.00H197.20" stroke="#ff0000" stroke-width="0.75" fill="none"/>
<path d="M190.40 365.60V377.00" stroke="#ff0000" stroke-width="0.85" fill="none"/><path d="M187.20 365.60H193.60M187.20 377.00H193.60" stroke="#ff0000" stroke-width="0.75" fill="none"/>
<path d="M186.30 394.50V402.20" stroke="#ff0000" stroke-width="0.85" fill="none"/><path d="M183.10 394.50H189.50M183.10 402.20H189.50" stroke="#ff0000" stroke-width="0.75" fill="none"/>
<path d="M183.40 398.50V420.50" stroke="#ff0000" stroke-width="0.85" fill="none"/><path d="M180.20 398.50H186.60M180.20 420.50H186.60" stroke="#ff0000" stroke-width="0.75" fill="none"/>
<path d="M200.50 404.00V412.00" stroke="#ff0000" stroke-width="0.85" fill="none"/><path d="M197.30 404.00H203.70M197.30 412.00H203.70" stroke="#ff0000" stroke-width="0.75" fill="none"/>
<path d="M202.80 403.90V413.50" stroke="#ff0000" stroke-width="0.85" fill="none"/><path d="M199.60 403.90H206.00M199.60 413.50H206.00" stroke="#ff0000" stroke-width="0.75" fill="none"/>
<path d="M209.60 401.00V421.00" stroke="#ff0000" stroke-width="0.85" fill="none"/><path d="M206.40 401.00H212.80M206.40 421.00H212.80" stroke="#ff0000" stroke-width="0.75" fill="none"/>
<path d="M211.30 402.00V449.60" stroke="#ff0000" stroke-width="0.85" fill="none"/><path d="M208.10 402.00H214.50M208.10 449.60H214.50" stroke="#ff0000" stroke-width="0.75" fill="none"/>
<path d="M208.70 449.60V500.00" stroke="#ff0000" stroke-width="0.85" fill="none"/><path d="M205.50 449.60H211.90M205.50 500.00H211.90" stroke="#ff0000" stroke-width="0.75" fill="none"/>
<path d="M203.10 478.30V484.60" stroke="#ff0000" stroke-width="0.85" fill="none"/><path d="M199.90 478.30H206.30M199.90 484.60H206.30" stroke="#ff0000" stroke-width="0.75" fill="none"/>
<path d="M199.30 478.30V487.00" stroke="#ff0000" stroke-width="0.85" fill="none"/><path d="M196.10 478.30H202.50M196.10 487.00H202.50" stroke="#ff0000" stroke-width="0.75" fill="none"/>
<path d="M205.00 348.20V359.30" stroke="#ff0000" stroke-width="0.85" fill="none"/><path d="M201.80 348.20H208.20M201.80 359.30H208.20" stroke="#ff0000" stroke-width="0.75" fill="none"/>
<path d="M208.90 348.20V359.00" stroke="#ff0000" stroke-width="0.85" fill="none"/><path d="M205.70 348.20H212.10M205.70 359.00H212.10" stroke="#ff0000" stroke-width="0.75" fill="none"/>
<path d="M217.10 348.20V358.50" stroke="#ff0000" stroke-width="0.85" fill="none"/><path d="M213.90 348.20H220.30M213.90 358.50H220.30" stroke="#ff0000" stroke-width="0.75" fill="none"/>
<path d="M219.90 348.20V359.50" stroke="#ff0000" stroke-width="0.85" fill="none"/><path d="M216.70 348.20H223.10M216.70 359.50H223.10" stroke="#ff0000" stroke-width="0.75" fill="none"/>
<path d="M226.40 350.50V360.00" stroke="#ff0000" stroke-width="0.85" fill="none"/><path d="M223.20 350.50H229.60M223.20 360.00H229.60" stroke="#ff0000" stroke-width="0.75" fill="none"/>
<path d="M229.40 350.50V361.90" stroke="#ff0000" stroke-width="0.85" fill="none"/><path d="M226.20 350.50H232.60M226.20 361.90H232.60" stroke="#ff0000" stroke-width="0.75" fill="none"/>
<path d="M223.40 324.80V335.10" stroke="#ff0000" stroke-width="0.85" fill="none"/><path d="M220.20 324.80H226.60M220.20 335.10H226.60" stroke="#ff0000" stroke-width="0.75" fill="none"/>
<path d="M226.80 324.80V337.40" stroke="#ff0000" stroke-width="0.85" fill="none"/><path d="M223.60 324.80H230.00M223.60 337.40H230.00" stroke="#ff0000" stroke-width="0.75" fill="none"/>
<path d="M235.50 327.70V338.00" stroke="#ff0000" stroke-width="0.85" fill="none"/><path d="M232.30 327.70H238.70M232.30 338.00H238.70" stroke="#ff0000" stroke-width="0.75" fill="none"/>
<path d="M238.00 327.70V338.00" stroke="#ff0000" stroke-width="0.85" fill="none"/><path d="M234.80 327.70H241.20M234.80 338.00H241.20" stroke="#ff0000" stroke-width="0.75" fill="none"/>
<path d="M244.00 331.10V338.00" stroke="#ff0000" stroke-width="0.85" fill="none"/><path d="M240.80 331.10H247.20M240.80 338.00H247.20" stroke="#ff0000" stroke-width="0.75" fill="none"/>
<path d="M247.40 331.10V341.00" stroke="#ff0000" stroke-width="0.85" fill="none"/><path d="M244.20 331.10H250.60M244.20 341.00H250.60" stroke="#ff0000" stroke-width="0.75" fill="none"/>
<path d="M308.50 336.20V345.60" stroke="#ff0000" stroke-width="0.85" fill="none"/><path d="M305.30 336.20H311.70M305.30 345.60H311.70" stroke="#ff0000" stroke-width="0.75" fill="none"/>
<path d="M308.50 339.70V348.20" stroke="#ff0000" stroke-width="0.85" fill="none"/><path d="M305.30 339.70H311.70M305.30 348.20H311.70" stroke="#ff0000" stroke-width="0.75" fill="none"/>
<path d="M98.50 440.40V443.40" stroke="#0000ff" stroke-width="0.85" fill="none"/><path d="M95.30 440.40H101.70M95.30 443.40H101.70" stroke="#0000ff" stroke-width="0.75" fill="none"/>
<path d="M102.00 439.50V442.50" stroke="#0000ff" stroke-width="0.85" fill="none"/><path d="M98.80 439.50H105.20M98.80 442.50H105.20" stroke="#0000ff" stroke-width="0.75" fill="none"/>
<path d="M109.10 437.00V440.00" stroke="#0000ff" stroke-width="0.85" fill="none"/><path d="M105.90 437.00H112.30M105.90 440.00H112.30" stroke="#0000ff" stroke-width="0.75" fill="none"/>
<path d="M115.60 432.30V435.30" stroke="#0000ff" stroke-width="0.85" fill="none"/><path d="M112.40 432.30H118.80M112.40 435.30H118.80" stroke="#0000ff" stroke-width="0.75" fill="none"/>
<path d="M120.30 429.50V432.50" stroke="#0000ff" stroke-width="0.85" fill="none"/><path d="M117.10 429.50H123.50M117.10 432.50H123.50" stroke="#0000ff" stroke-width="0.75" fill="none"/>
<path d="M122.00 414.50V417.50" stroke="#0000ff" stroke-width="0.85" fill="none"/><path d="M118.80 414.50H125.20M118.80 417.50H125.20" stroke="#0000ff" stroke-width="0.75" fill="none"/>
<path d="M125.00 415.00V419.00" stroke="#0000ff" stroke-width="0.85" fill="none"/><path d="M121.80 415.00H128.20M121.80 419.00H128.20" stroke="#0000ff" stroke-width="0.75" fill="none"/>
<path d="M127.00 417.00V421.00" stroke="#0000ff" stroke-width="0.85" fill="none"/><path d="M123.80 417.00H130.20M123.80 421.00H130.20" stroke="#0000ff" stroke-width="0.75" fill="none"/>
<path d="M126.00 420.00V424.00" stroke="#0000ff" stroke-width="0.85" fill="none"/><path d="M122.80 420.00H129.20M122.80 424.00H129.20" stroke="#0000ff" stroke-width="0.75" fill="none"/>
<path d="M124.00 423.00V427.00" stroke="#0000ff" stroke-width="0.85" fill="none"/><path d="M120.80 423.00H127.20M120.80 427.00H127.20" stroke="#0000ff" stroke-width="0.75" fill="none"/>
<path d="M127.00 422.00V426.00" stroke="#0000ff" stroke-width="0.85" fill="none"/><path d="M123.80 422.00H130.20M123.80 426.00H130.20" stroke="#0000ff" stroke-width="0.75" fill="none"/>
<path d="M123.50 417.50V420.50" stroke="#0000ff" stroke-width="0.85" fill="none"/><path d="M120.30 417.50H126.70M120.30 420.50H126.70" stroke="#0000ff" stroke-width="0.75" fill="none"/>
<path d="M125.50 424.50V427.50" stroke="#0000ff" stroke-width="0.85" fill="none"/><path d="M122.30 424.50H128.70M122.30 427.50H128.70" stroke="#0000ff" stroke-width="0.75" fill="none"/>
<path d="M127.50 414.00V417.00" stroke="#0000ff" stroke-width="0.85" fill="none"/><path d="M124.30 414.00H130.70M124.30 417.00H130.70" stroke="#0000ff" stroke-width="0.75" fill="none"/>
<path d="M122.50 421.00V424.00" stroke="#0000ff" stroke-width="0.85" fill="none"/><path d="M119.30 421.00H125.70M119.30 424.00H125.70" stroke="#0000ff" stroke-width="0.75" fill="none"/>
<path d="M125.00 413.50V415.50" stroke="#0000ff" stroke-width="0.85" fill="none"/><path d="M121.80 413.50H128.20M121.80 415.50H128.20" stroke="#0000ff" stroke-width="0.75" fill="none"/>
<path d="M126.50 418.00V421.00" stroke="#0000ff" stroke-width="0.85" fill="none"/><path d="M123.30 418.00H129.70M123.30 421.00H129.70" stroke="#0000ff" stroke-width="0.75" fill="none"/>
<path d="M124.50 420.00V423.00" stroke="#0000ff" stroke-width="0.85" fill="none"/><path d="M121.30 420.00H127.70M121.30 423.00H127.70" stroke="#0000ff" stroke-width="0.75" fill="none"/>
<path d="M199.20 290.00V325.50" stroke="#0000ff" stroke-width="0.85" fill="none"/><path d="M196.00 290.00H202.40M196.00 325.50H202.40" stroke="#0000ff" stroke-width="0.75" fill="none"/>
<path d="M191.90 351.80V354.40" stroke="#0000ff" stroke-width="0.85" fill="none"/><path d="M188.70 351.80H195.10M188.70 354.40H195.10" stroke="#0000ff" stroke-width="0.75" fill="none"/>
<path d="M195.90 354.40V357.00" stroke="#0000ff" stroke-width="0.85" fill="none"/><path d="M192.70 354.40H199.10M192.70 357.00H199.10" stroke="#0000ff" stroke-width="0.75" fill="none"/>
<path d="M195.90 364.00V369.50" stroke="#0000ff" stroke-width="0.85" fill="none"/><path d="M192.70 364.00H199.10M192.70 369.50H199.10" stroke="#0000ff" stroke-width="0.75" fill="none"/>
<path d="M198.70 366.00V372.50" stroke="#0000ff" stroke-width="0.85" fill="none"/><path d="M195.50 366.00H201.90M195.50 372.50H201.90" stroke="#0000ff" stroke-width="0.75" fill="none"/>
<path d="M190.80 372.50V375.50" stroke="#0000ff" stroke-width="0.85" fill="none"/><path d="M187.60 372.50H194.00M187.60 375.50H194.00" stroke="#0000ff" stroke-width="0.75" fill="none"/>
<path d="M194.00 372.50V375.50" stroke="#0000ff" stroke-width="0.85" fill="none"/><path d="M190.80 372.50H197.20M190.80 375.50H197.20" stroke="#0000ff" stroke-width="0.75" fill="none"/>
<path d="M186.40 378.30V394.80" stroke="#0000ff" stroke-width="0.85" fill="none"/><path d="M183.20 378.30H189.60M183.20 394.80H189.60" stroke="#0000ff" stroke-width="0.75" fill="none"/>
<path d="M183.40 378.30V406.00" stroke="#0000ff" stroke-width="0.85" fill="none"/><path d="M180.20 378.30H186.60M180.20 406.00H186.60" stroke="#0000ff" stroke-width="0.75" fill="none"/>
<path d="M200.20 403.90V409.00" stroke="#0000ff" stroke-width="0.85" fill="none"/><path d="M197.00 403.90H203.40M197.00 409.00H203.40" stroke="#0000ff" stroke-width="0.75" fill="none"/>
<path d="M202.40 411.50V417.00" stroke="#0000ff" stroke-width="0.85" fill="none"/><path d="M199.20 411.50H205.60M199.20 417.00H205.60" stroke="#0000ff" stroke-width="0.75" fill="none"/>
<path d="M210.80 396.00V413.00" stroke="#0000ff" stroke-width="0.85" fill="none"/><path d="M207.60 396.00H214.00M207.60 413.00H214.00" stroke="#0000ff" stroke-width="0.75" fill="none"/>
<path d="M209.60 401.00V416.00" stroke="#0000ff" stroke-width="0.85" fill="none"/><path d="M206.40 401.00H212.80M206.40 416.00H212.80" stroke="#0000ff" stroke-width="0.75" fill="none"/>
<path d="M208.70 434.40V460.00" stroke="#0000ff" stroke-width="0.85" fill="none"/><path d="M205.50 434.40H211.90M205.50 460.00H211.90" stroke="#0000ff" stroke-width="0.75" fill="none"/>
<path d="M203.10 465.80V484.60" stroke="#0000ff" stroke-width="0.85" fill="none"/><path d="M199.90 465.80H206.30M199.90 484.60H206.30" stroke="#0000ff" stroke-width="0.75" fill="none"/>
<path d="M199.30 483.00V490.00" stroke="#0000ff" stroke-width="0.85" fill="none"/><path d="M196.10 483.00H202.50M196.10 490.00H202.50" stroke="#0000ff" stroke-width="0.75" fill="none"/>
<path d="M204.80 353.00V355.20" stroke="#0000ff" stroke-width="0.85" fill="none"/><path d="M201.60 353.00H208.00M201.60 355.20H208.00" stroke="#0000ff" stroke-width="0.75" fill="none"/>
<path d="M205.70 352.80V355.60" stroke="#0000ff" stroke-width="0.85" fill="none"/><path d="M202.50 352.80H208.90M202.50 355.60H208.90" stroke="#0000ff" stroke-width="0.75" fill="none"/>
<path d="M208.90 354.00V356.80" stroke="#0000ff" stroke-width="0.85" fill="none"/><path d="M205.70 354.00H212.10M205.70 356.80H212.10" stroke="#0000ff" stroke-width="0.75" fill="none"/>
<path d="M217.10 356.50V359.30" stroke="#0000ff" stroke-width="0.85" fill="none"/><path d="M213.90 356.50H220.30M213.90 359.30H220.30" stroke="#0000ff" stroke-width="0.75" fill="none"/>
<path d="M219.90 355.00V358.00" stroke="#0000ff" stroke-width="0.85" fill="none"/><path d="M216.70 355.00H223.10M216.70 358.00H223.10" stroke="#0000ff" stroke-width="0.75" fill="none"/>
<path d="M227.40 358.00V361.20" stroke="#0000ff" stroke-width="0.85" fill="none"/><path d="M224.20 358.00H230.60M224.20 361.20H230.60" stroke="#0000ff" stroke-width="0.75" fill="none"/>
<path d="M229.40 359.60V362.60" stroke="#0000ff" stroke-width="0.85" fill="none"/><path d="M226.20 359.60H232.60M226.20 362.60H232.60" stroke="#0000ff" stroke-width="0.75" fill="none"/>
<path d="M223.40 327.00V329.60" stroke="#0000ff" stroke-width="0.85" fill="none"/><path d="M220.20 327.00H226.60M220.20 329.60H226.60" stroke="#0000ff" stroke-width="0.75" fill="none"/>
<path d="M226.40 328.00V330.80" stroke="#0000ff" stroke-width="0.85" fill="none"/><path d="M223.20 328.00H229.60M223.20 330.80H229.60" stroke="#0000ff" stroke-width="0.75" fill="none"/>
<path d="M234.80 330.50V333.00" stroke="#0000ff" stroke-width="0.85" fill="none"/><path d="M231.60 330.50H238.00M231.60 333.00H238.00" stroke="#0000ff" stroke-width="0.75" fill="none"/>
<path d="M237.60 330.50V333.00" stroke="#0000ff" stroke-width="0.85" fill="none"/><path d="M234.40 330.50H240.80M234.40 333.00H240.80" stroke="#0000ff" stroke-width="0.75" fill="none"/>
<path d="M243.40 333.80V336.40" stroke="#0000ff" stroke-width="0.85" fill="none"/><path d="M240.20 333.80H246.60M240.20 336.40H246.60" stroke="#0000ff" stroke-width="0.75" fill="none"/>
<path d="M246.80 337.20V339.80" stroke="#0000ff" stroke-width="0.85" fill="none"/><path d="M243.60 337.20H250.00M243.60 339.80H250.00" stroke="#0000ff" stroke-width="0.75" fill="none"/>
<path d="M244.50 340.10V342.70" stroke="#0000ff" stroke-width="0.85" fill="none"/><path d="M241.30 340.10H247.70M241.30 342.70H247.70" stroke="#0000ff" stroke-width="0.75" fill="none"/>
<path d="M248.50 340.10V342.70" stroke="#0000ff" stroke-width="0.85" fill="none"/><path d="M245.30 340.10H251.70M245.30 342.70H251.70" stroke="#0000ff" stroke-width="0.75" fill="none"/>
<path d="M308.50 331.60V368.70" stroke="#0000ff" stroke-width="0.85" fill="none"/><path d="M305.30 331.60H311.70M305.30 368.70H311.70" stroke="#0000ff" stroke-width="0.75" fill="none"/>
<path d="M308.50 355.40V385.80" stroke="#0000ff" stroke-width="0.85" fill="none"/><path d="M305.30 355.40H311.70M305.30 385.80H311.70" stroke="#0000ff" stroke-width="0.75" fill="none"/>
<circle cx="98.50" cy="443.30" r="1.8" fill="#ff0000"/>
<circle cx="102.00" cy="441.50" r="1.8" fill="#ff0000"/>
<circle cx="109.10" cy="438.50" r="1.8" fill="#ff0000"/>
<circle cx="115.60" cy="433.60" r="1.8" fill="#ff0000"/>
<circle cx="120.20" cy="428.80" r="1.8" fill="#ff0000"/>
<circle cx="124.40" cy="420.50" r="1.8" fill="#ff0000"/>
<circle cx="122.80" cy="420.30" r="1.8" fill="#ff0000"/>
<circle cx="127.00" cy="423.00" r="1.8" fill="#ff0000"/>
<circle cx="208.60" cy="300.00" r="1.8" fill="#ff0000"/>
<circle cx="199.10" cy="362.00" r="1.8" fill="#ff0000"/>
<circle cx="191.90" cy="355.60" r="1.8" fill="#ff0000"/>
<circle cx="195.90" cy="361.60" r="1.8" fill="#ff0000"/>
<circle cx="198.70" cy="366.00" r="1.8" fill="#ff0000"/>
<circle cx="194.00" cy="370.00" r="1.8" fill="#ff0000"/>
<circle cx="190.40" cy="371.20" r="1.8" fill="#ff0000"/>
<circle cx="186.30" cy="398.50" r="1.8" fill="#ff0000"/>
<circle cx="183.40" cy="409.40" r="1.8" fill="#ff0000"/>
<circle cx="200.50" cy="408.50" r="1.8" fill="#ff0000"/>
<circle cx="202.80" cy="408.50" r="1.8" fill="#ff0000"/>
<circle cx="209.60" cy="412.10" r="1.8" fill="#ff0000"/>
<circle cx="211.30" cy="425.50" r="1.8" fill="#ff0000"/>
<circle cx="208.70" cy="472.50" r="1.8" fill="#ff0000"/>
<circle cx="203.10" cy="481.40" r="1.8" fill="#ff0000"/>
<circle cx="199.30" cy="482.50" r="1.8" fill="#ff0000"/>
<circle cx="205.00" cy="353.80" r="1.8" fill="#ff0000"/>
<circle cx="208.90" cy="354.00" r="1.8" fill="#ff0000"/>
<circle cx="217.10" cy="353.30" r="1.8" fill="#ff0000"/>
<circle cx="219.90" cy="353.90" r="1.8" fill="#ff0000"/>
<circle cx="226.40" cy="355.00" r="1.8" fill="#ff0000"/>
<circle cx="229.40" cy="356.50" r="1.8" fill="#ff0000"/>
<circle cx="223.40" cy="331.40" r="1.8" fill="#ff0000"/>
<circle cx="226.80" cy="332.20" r="1.8" fill="#ff0000"/>
<circle cx="235.50" cy="332.50" r="1.8" fill="#ff0000"/>
<circle cx="238.00" cy="333.00" r="1.8" fill="#ff0000"/>
<circle cx="244.00" cy="334.00" r="1.8" fill="#ff0000"/>
<circle cx="247.40" cy="335.70" r="1.8" fill="#ff0000"/>
<circle cx="308.50" cy="341.50" r="1.8" fill="#ff0000"/>
<circle cx="308.50" cy="343.50" r="1.8" fill="#ff0000"/>
<circle cx="98.50" cy="441.90" r="1.8" fill="#0000ff"/>
<circle cx="102.00" cy="441.00" r="1.8" fill="#0000ff"/>
<circle cx="109.10" cy="438.50" r="1.8" fill="#0000ff"/>
<circle cx="115.60" cy="433.80" r="1.8" fill="#0000ff"/>
<circle cx="120.30" cy="431.00" r="1.8" fill="#0000ff"/>
<circle cx="122.00" cy="416.00" r="1.8" fill="#0000ff"/>
<circle cx="125.00" cy="417.00" r="1.8" fill="#0000ff"/>
<circle cx="127.00" cy="419.00" r="1.8" fill="#0000ff"/>
<circle cx="126.00" cy="422.00" r="1.8" fill="#0000ff"/>
<circle cx="124.00" cy="425.00" r="1.8" fill="#0000ff"/>
<circle cx="127.00" cy="424.00" r="1.8" fill="#0000ff"/>
<circle cx="123.50" cy="419.00" r="1.8" fill="#0000ff"/>
<circle cx="125.50" cy="426.00" r="1.8" fill="#0000ff"/>
<circle cx="127.50" cy="415.50" r="1.8" fill="#0000ff"/>
<circle cx="122.50" cy="422.50" r="1.8" fill="#0000ff"/>
<circle cx="125.00" cy="414.50" r="1.8" fill="#0000ff"/>
<circle cx="126.50" cy="419.50" r="1.8" fill="#0000ff"/>
<circle cx="124.50" cy="421.50" r="1.8" fill="#0000ff"/>
<circle cx="199.20" cy="300.00" r="1.8" fill="#0000ff"/>
<circle cx="191.90" cy="353.00" r="1.8" fill="#0000ff"/>
<circle cx="195.90" cy="355.60" r="1.8" fill="#0000ff"/>
<circle cx="195.90" cy="366.80" r="1.8" fill="#0000ff"/>
<circle cx="198.70" cy="369.20" r="1.8" fill="#0000ff"/>
<circle cx="190.80" cy="374.00" r="1.8" fill="#0000ff"/>
<circle cx="194.00" cy="374.00" r="1.8" fill="#0000ff"/>
<circle cx="186.40" cy="386.30" r="1.8" fill="#0000ff"/>
<circle cx="183.40" cy="392.50" r="1.8" fill="#0000ff"/>
<circle cx="200.20" cy="406.40" r="1.8" fill="#0000ff"/>
<circle cx="202.40" cy="414.20" r="1.8" fill="#0000ff"/>
<circle cx="210.80" cy="404.50" r="1.8" fill="#0000ff"/>
<circle cx="209.60" cy="408.50" r="1.8" fill="#0000ff"/>
<circle cx="208.70" cy="447.20" r="1.8" fill="#0000ff"/>
<circle cx="203.10" cy="475.20" r="1.8" fill="#0000ff"/>
<circle cx="199.30" cy="485.60" r="1.8" fill="#0000ff"/>
<circle cx="204.80" cy="354.10" r="1.8" fill="#0000ff"/>
<circle cx="205.70" cy="354.20" r="1.8" fill="#0000ff"/>
<circle cx="208.90" cy="355.40" r="1.8" fill="#0000ff"/>
<circle cx="217.10" cy="357.90" r="1.8" fill="#0000ff"/>
<circle cx="219.90" cy="356.50" r="1.8" fill="#0000ff"/>
<circle cx="227.40" cy="359.60" r="1.8" fill="#0000ff"/>
<circle cx="229.40" cy="361.10" r="1.8" fill="#0000ff"/>
<circle cx="223.40" cy="328.30" r="1.8" fill="#0000ff"/>
<circle cx="226.40" cy="329.40" r="1.8" fill="#0000ff"/>
<circle cx="234.80" cy="331.70" r="1.8" fill="#0000ff"/>
<circle cx="237.60" cy="331.70" r="1.8" fill="#0000ff"/>
<circle cx="243.40" cy="335.10" r="1.8" fill="#0000ff"/>
<circle cx="246.80" cy="338.50" r="1.8" fill="#0000ff"/>
<circle cx="244.50" cy="341.40" r="1.8" fill="#0000ff"/>
<circle cx="248.50" cy="341.40" r="1.8" fill="#0000ff"/>
<circle cx="308.50" cy="350.40" r="1.8" fill="#0000ff"/>
<circle cx="308.50" cy="370.40" r="1.8" fill="#0000ff"/>
</g>
<g clip-path="url(#c2r)">
<path d="M98.50 512.40V530.30" stroke="#0000ff" stroke-width="1.25" fill="none" stroke-opacity="0.72"/><path d="M95.30 512.40H101.70M95.30 530.30H101.70" stroke="#0000ff" stroke-width="1.2" fill="none" stroke-opacity="0.72"/>
<path d="M102.00 512.40V530.30" stroke="#0000ff" stroke-width="1.25" fill="none" stroke-opacity="0.72"/><path d="M98.80 512.40H105.20M98.80 530.30H105.20" stroke="#0000ff" stroke-width="1.2" fill="none" stroke-opacity="0.72"/>
<path d="M109.10 514.30V532.20" stroke="#0000ff" stroke-width="1.25" fill="none" stroke-opacity="0.72"/><path d="M105.90 514.30H112.30M105.90 532.20H112.30" stroke="#0000ff" stroke-width="1.2" fill="none" stroke-opacity="0.72"/>
<path d="M115.60 515.60V532.20" stroke="#0000ff" stroke-width="1.25" fill="none" stroke-opacity="0.72"/><path d="M112.40 515.60H118.80M112.40 532.20H118.80" stroke="#0000ff" stroke-width="1.2" fill="none" stroke-opacity="0.72"/>
<path d="M120.20 516.00V534.20" stroke="#0000ff" stroke-width="1.25" fill="none" stroke-opacity="0.72"/><path d="M117.00 516.00H123.40M117.00 534.20H123.40" stroke="#0000ff" stroke-width="1.2" fill="none" stroke-opacity="0.72"/>
<path d="M124.50 504.00V524.00" stroke="#0000ff" stroke-width="1.25" fill="none" stroke-opacity="0.72"/><path d="M121.30 504.00H127.70M121.30 524.00H127.70" stroke="#0000ff" stroke-width="1.2" fill="none" stroke-opacity="0.72"/>
<path d="M125.50 508.50V527.50" stroke="#0000ff" stroke-width="1.25" fill="none" stroke-opacity="0.72"/><path d="M122.30 508.50H128.70M122.30 527.50H128.70" stroke="#0000ff" stroke-width="1.2" fill="none" stroke-opacity="0.72"/>
<path d="M123.50 512.50V531.50" stroke="#0000ff" stroke-width="1.25" fill="none" stroke-opacity="0.72"/><path d="M120.30 512.50H126.70M120.30 531.50H126.70" stroke="#0000ff" stroke-width="1.2" fill="none" stroke-opacity="0.72"/>
<path d="M126.50 514.50V533.50" stroke="#0000ff" stroke-width="1.25" fill="none" stroke-opacity="0.72"/><path d="M123.30 514.50H129.70M123.30 533.50H129.70" stroke="#0000ff" stroke-width="1.2" fill="none" stroke-opacity="0.72"/>
<path d="M124.50 517.50V536.70" stroke="#0000ff" stroke-width="1.25" fill="none" stroke-opacity="0.72"/><path d="M121.30 517.50H127.70M121.30 536.70H127.70" stroke="#0000ff" stroke-width="1.2" fill="none" stroke-opacity="0.72"/>
<path d="M127.00 511.00V529.00" stroke="#0000ff" stroke-width="1.25" fill="none" stroke-opacity="0.72"/><path d="M123.80 511.00H130.20M123.80 529.00H130.20" stroke="#0000ff" stroke-width="1.2" fill="none" stroke-opacity="0.72"/>
<path d="M123.00 507.00V525.00" stroke="#0000ff" stroke-width="1.25" fill="none" stroke-opacity="0.72"/><path d="M119.80 507.00H126.20M119.80 525.00H126.20" stroke="#0000ff" stroke-width="1.2" fill="none" stroke-opacity="0.72"/>
<path d="M125.50 512.00V530.00" stroke="#0000ff" stroke-width="1.25" fill="none" stroke-opacity="0.72"/><path d="M122.30 512.00H128.70M122.30 530.00H128.70" stroke="#0000ff" stroke-width="1.2" fill="none" stroke-opacity="0.72"/>
<path d="M127.50 506.00V524.00" stroke="#0000ff" stroke-width="1.25" fill="none" stroke-opacity="0.72"/><path d="M124.30 506.00H130.70M124.30 524.00H130.70" stroke="#0000ff" stroke-width="1.2" fill="none" stroke-opacity="0.72"/>
<path d="M124.00 510.50V528.50" stroke="#0000ff" stroke-width="1.25" fill="none" stroke-opacity="0.72"/><path d="M120.80 510.50H127.20M120.80 528.50H127.20" stroke="#0000ff" stroke-width="1.2" fill="none" stroke-opacity="0.72"/>
<path d="M126.00 519.00V537.00" stroke="#0000ff" stroke-width="1.25" fill="none" stroke-opacity="0.72"/><path d="M122.80 519.00H129.20M122.80 537.00H129.20" stroke="#0000ff" stroke-width="1.2" fill="none" stroke-opacity="0.72"/>
<path d="M186.60 502.50V519.30" stroke="#0000ff" stroke-width="1.25" fill="none" stroke-opacity="0.72"/><path d="M183.40 502.50H189.80M183.40 519.30H189.80" stroke="#0000ff" stroke-width="1.2" fill="none" stroke-opacity="0.72"/>
<path d="M183.70 504.80V522.80" stroke="#0000ff" stroke-width="1.25" fill="none" stroke-opacity="0.72"/><path d="M180.50 504.80H186.90M180.50 522.80H186.90" stroke="#0000ff" stroke-width="1.2" fill="none" stroke-opacity="0.72"/>
<path d="M191.00 511.00V529.00" stroke="#0000ff" stroke-width="1.25" fill="none" stroke-opacity="0.72"/><path d="M187.80 511.00H194.20M187.80 529.00H194.20" stroke="#0000ff" stroke-width="1.2" fill="none" stroke-opacity="0.72"/>
<path d="M192.50 518.00V536.70" stroke="#0000ff" stroke-width="1.25" fill="none" stroke-opacity="0.72"/><path d="M189.30 518.00H195.70M189.30 536.70H195.70" stroke="#0000ff" stroke-width="1.2" fill="none" stroke-opacity="0.72"/>
<path d="M190.50 521.00V539.00" stroke="#0000ff" stroke-width="1.25" fill="none" stroke-opacity="0.72"/><path d="M187.30 521.00H193.70M187.30 539.00H193.70" stroke="#0000ff" stroke-width="1.2" fill="none" stroke-opacity="0.72"/>
<path d="M195.00 515.00V533.00" stroke="#0000ff" stroke-width="1.25" fill="none" stroke-opacity="0.72"/><path d="M191.80 515.00H198.20M191.80 533.00H198.20" stroke="#0000ff" stroke-width="1.2" fill="none" stroke-opacity="0.72"/>
<path d="M197.00 521.00V539.00" stroke="#0000ff" stroke-width="1.25" fill="none" stroke-opacity="0.72"/><path d="M193.80 521.00H200.20M193.80 539.00H200.20" stroke="#0000ff" stroke-width="1.2" fill="none" stroke-opacity="0.72"/>
<path d="M199.00 509.00V527.00" stroke="#0000ff" stroke-width="1.25" fill="none" stroke-opacity="0.72"/><path d="M195.80 509.00H202.20M195.80 527.00H202.20" stroke="#0000ff" stroke-width="1.2" fill="none" stroke-opacity="0.72"/>
<path d="M201.00 513.00V531.00" stroke="#0000ff" stroke-width="1.25" fill="none" stroke-opacity="0.72"/><path d="M197.80 513.00H204.20M197.80 531.00H204.20" stroke="#0000ff" stroke-width="1.2" fill="none" stroke-opacity="0.72"/>
<path d="M202.50 523.00V540.80" stroke="#0000ff" stroke-width="1.25" fill="none" stroke-opacity="0.72"/><path d="M199.30 523.00H205.70M199.30 540.80H205.70" stroke="#0000ff" stroke-width="1.2" fill="none" stroke-opacity="0.72"/>
<path d="M204.50 507.00V525.00" stroke="#0000ff" stroke-width="1.25" fill="none" stroke-opacity="0.72"/><path d="M201.30 507.00H207.70M201.30 525.00H207.70" stroke="#0000ff" stroke-width="1.2" fill="none" stroke-opacity="0.72"/>
<path d="M206.00 516.00V534.00" stroke="#0000ff" stroke-width="1.25" fill="none" stroke-opacity="0.72"/><path d="M202.80 516.00H209.20M202.80 534.00H209.20" stroke="#0000ff" stroke-width="1.2" fill="none" stroke-opacity="0.72"/>
<path d="M209.00 505.50V521.00" stroke="#0000ff" stroke-width="1.25" fill="none" stroke-opacity="0.72"/><path d="M205.80 505.50H212.20M205.80 521.00H212.20" stroke="#0000ff" stroke-width="1.2" fill="none" stroke-opacity="0.72"/>
<path d="M210.00 511.00V529.00" stroke="#0000ff" stroke-width="1.25" fill="none" stroke-opacity="0.72"/><path d="M206.80 511.00H213.20M206.80 529.00H213.20" stroke="#0000ff" stroke-width="1.2" fill="none" stroke-opacity="0.72"/>
<path d="M211.00 518.00V536.00" stroke="#0000ff" stroke-width="1.25" fill="none" stroke-opacity="0.72"/><path d="M207.80 518.00H214.20M207.80 536.00H214.20" stroke="#0000ff" stroke-width="1.2" fill="none" stroke-opacity="0.72"/>
<path d="M208.00 522.00V540.00" stroke="#0000ff" stroke-width="1.25" fill="none" stroke-opacity="0.72"/><path d="M204.80 522.00H211.20M204.80 540.00H211.20" stroke="#0000ff" stroke-width="1.2" fill="none" stroke-opacity="0.72"/>
<path d="M219.00 518.10V537.50" stroke="#0000ff" stroke-width="1.25" fill="none" stroke-opacity="0.72"/><path d="M215.80 518.10H222.20M215.80 537.50H222.20" stroke="#0000ff" stroke-width="1.2" fill="none" stroke-opacity="0.72"/>
<path d="M217.70 523.00V540.60" stroke="#0000ff" stroke-width="1.25" fill="none" stroke-opacity="0.72"/><path d="M214.50 523.00H220.90M214.50 540.60H220.90" stroke="#0000ff" stroke-width="1.2" fill="none" stroke-opacity="0.72"/>
<path d="M226.00 509.20V528.50" stroke="#0000ff" stroke-width="1.25" fill="none" stroke-opacity="0.72"/><path d="M222.80 509.20H229.20M222.80 528.50H229.20" stroke="#0000ff" stroke-width="1.2" fill="none" stroke-opacity="0.72"/>
<path d="M226.70 519.50V538.60" stroke="#0000ff" stroke-width="1.25" fill="none" stroke-opacity="0.72"/><path d="M223.50 519.50H229.90M223.50 538.60H229.90" stroke="#0000ff" stroke-width="1.2" fill="none" stroke-opacity="0.72"/>
<path d="M229.20 517.00V536.10" stroke="#0000ff" stroke-width="1.25" fill="none" stroke-opacity="0.72"/><path d="M226.00 517.00H232.40M226.00 536.10H232.40" stroke="#0000ff" stroke-width="1.2" fill="none" stroke-opacity="0.72"/>
<path d="M236.00 511.70V529.70" stroke="#0000ff" stroke-width="1.25" fill="none" stroke-opacity="0.72"/><path d="M232.80 511.70H239.20M232.80 529.70H239.20" stroke="#0000ff" stroke-width="1.2" fill="none" stroke-opacity="0.72"/>
<path d="M244.00 515.60V531.00" stroke="#0000ff" stroke-width="1.25" fill="none" stroke-opacity="0.72"/><path d="M240.80 515.60H247.20M240.80 531.00H247.20" stroke="#0000ff" stroke-width="1.2" fill="none" stroke-opacity="0.72"/>
<path d="M246.00 518.00V536.00" stroke="#0000ff" stroke-width="1.25" fill="none" stroke-opacity="0.72"/><path d="M242.80 518.00H249.20M242.80 536.00H249.20" stroke="#0000ff" stroke-width="1.2" fill="none" stroke-opacity="0.72"/>
<path d="M248.00 521.50V539.30" stroke="#0000ff" stroke-width="1.25" fill="none" stroke-opacity="0.72"/><path d="M244.80 521.50H251.20M244.80 539.30H251.20" stroke="#0000ff" stroke-width="1.2" fill="none" stroke-opacity="0.72"/>
<path d="M308.60 518.40V536.50" stroke="#0000ff" stroke-width="1.25" fill="none" stroke-opacity="0.72"/><path d="M305.40 518.40H311.80M305.40 536.50H311.80" stroke="#0000ff" stroke-width="1.2" fill="none" stroke-opacity="0.72"/>
<path d="M308.60 528.50V547.40" stroke="#0000ff" stroke-width="1.25" fill="none" stroke-opacity="0.72"/><path d="M305.40 528.50H311.80M305.40 547.40H311.80" stroke="#0000ff" stroke-width="1.2" fill="none" stroke-opacity="0.72"/>
<circle cx="98.50" cy="521.60" r="1.8" fill="#0000ff" fill-opacity="0.72"/>
<circle cx="102.00" cy="521.60" r="1.8" fill="#0000ff" fill-opacity="0.72"/>
<circle cx="109.10" cy="523.30" r="1.8" fill="#0000ff" fill-opacity="0.72"/>
<circle cx="115.60" cy="523.90" r="1.8" fill="#0000ff" fill-opacity="0.72"/>
<circle cx="120.20" cy="525.20" r="1.8" fill="#0000ff" fill-opacity="0.72"/>
<circle cx="124.50" cy="514.00" r="1.8" fill="#0000ff" fill-opacity="0.72"/>
<circle cx="125.50" cy="518.00" r="1.8" fill="#0000ff" fill-opacity="0.72"/>
<circle cx="123.50" cy="522.00" r="1.8" fill="#0000ff" fill-opacity="0.72"/>
<circle cx="126.50" cy="524.00" r="1.8" fill="#0000ff" fill-opacity="0.72"/>
<circle cx="124.50" cy="527.00" r="1.8" fill="#0000ff" fill-opacity="0.72"/>
<circle cx="127.00" cy="520.00" r="1.8" fill="#0000ff" fill-opacity="0.72"/>
<circle cx="123.00" cy="516.00" r="1.8" fill="#0000ff" fill-opacity="0.72"/>
<circle cx="125.50" cy="521.00" r="1.8" fill="#0000ff" fill-opacity="0.72"/>
<circle cx="127.50" cy="515.00" r="1.8" fill="#0000ff" fill-opacity="0.72"/>
<circle cx="124.00" cy="519.50" r="1.8" fill="#0000ff" fill-opacity="0.72"/>
<circle cx="126.00" cy="528.00" r="1.8" fill="#0000ff" fill-opacity="0.72"/>
<circle cx="186.60" cy="510.60" r="1.8" fill="#0000ff" fill-opacity="0.72"/>
<circle cx="183.70" cy="513.70" r="1.8" fill="#0000ff" fill-opacity="0.72"/>
<circle cx="191.00" cy="520.00" r="1.8" fill="#0000ff" fill-opacity="0.72"/>
<circle cx="192.50" cy="527.00" r="1.8" fill="#0000ff" fill-opacity="0.72"/>
<circle cx="190.50" cy="530.00" r="1.8" fill="#0000ff" fill-opacity="0.72"/>
<circle cx="195.00" cy="524.00" r="1.8" fill="#0000ff" fill-opacity="0.72"/>
<circle cx="197.00" cy="530.00" r="1.8" fill="#0000ff" fill-opacity="0.72"/>
<circle cx="199.00" cy="518.00" r="1.8" fill="#0000ff" fill-opacity="0.72"/>
<circle cx="201.00" cy="522.00" r="1.8" fill="#0000ff" fill-opacity="0.72"/>
<circle cx="202.50" cy="532.00" r="1.8" fill="#0000ff" fill-opacity="0.72"/>
<circle cx="204.50" cy="516.00" r="1.8" fill="#0000ff" fill-opacity="0.72"/>
<circle cx="206.00" cy="525.00" r="1.8" fill="#0000ff" fill-opacity="0.72"/>
<circle cx="209.00" cy="513.00" r="1.8" fill="#0000ff" fill-opacity="0.72"/>
<circle cx="210.00" cy="520.00" r="1.8" fill="#0000ff" fill-opacity="0.72"/>
<circle cx="211.00" cy="527.00" r="1.8" fill="#0000ff" fill-opacity="0.72"/>
<circle cx="208.00" cy="531.00" r="1.8" fill="#0000ff" fill-opacity="0.72"/>
<circle cx="219.00" cy="527.70" r="1.8" fill="#0000ff" fill-opacity="0.72"/>
<circle cx="217.70" cy="532.20" r="1.8" fill="#0000ff" fill-opacity="0.72"/>
<circle cx="226.00" cy="518.80" r="1.8" fill="#0000ff" fill-opacity="0.72"/>
<circle cx="226.70" cy="529.00" r="1.8" fill="#0000ff" fill-opacity="0.72"/>
<circle cx="229.20" cy="526.50" r="1.8" fill="#0000ff" fill-opacity="0.72"/>
<circle cx="236.00" cy="520.70" r="1.8" fill="#0000ff" fill-opacity="0.72"/>
<circle cx="244.00" cy="523.30" r="1.8" fill="#0000ff" fill-opacity="0.72"/>
<circle cx="246.00" cy="527.00" r="1.8" fill="#0000ff" fill-opacity="0.72"/>
<circle cx="248.00" cy="530.30" r="1.8" fill="#0000ff" fill-opacity="0.72"/>
<circle cx="308.60" cy="527.40" r="1.8" fill="#0000ff" fill-opacity="0.72"/>
<circle cx="308.60" cy="537.90" r="1.8" fill="#0000ff" fill-opacity="0.72"/>
</g>
<line x1="63.50" y1="214.60" x2="350.30" y2="214.60" stroke="#000" stroke-width="1.5" stroke-dasharray="5.55 2.4"/>
<line x1="63.50" y1="205.40" x2="350.30" y2="205.40" stroke="#000" stroke-width="1.5" stroke-dasharray="1.5 2.475"/>
<line x1="63.50" y1="223.80" x2="350.30" y2="223.80" stroke="#000" stroke-width="1.5" stroke-dasharray="1.5 2.475"/>
<line x1="66.60" y1="523.40" x2="350.30" y2="523.40" stroke="#000" stroke-width="1.5" stroke-dasharray="5.55 2.4"/>
<line x1="66.60" y1="514.20" x2="350.30" y2="514.20" stroke="#000" stroke-width="1.5" stroke-dasharray="1.5 2.475"/>
<line x1="66.60" y1="532.60" x2="350.30" y2="532.60" stroke="#000" stroke-width="1.5" stroke-dasharray="1.5 2.475"/>
<line x1="63.50" y1="8.00" x2="63.50" y2="13.00" stroke="#000" stroke-width="1.4" />
<line x1="63.50" y1="177.50" x2="63.50" y2="172.50" stroke="#000" stroke-width="1.4" />
<line x1="63.50" y1="177.50" x2="63.50" y2="182.50" stroke="#000" stroke-width="1.4" />
<line x1="63.50" y1="250.40" x2="63.50" y2="245.40" stroke="#000" stroke-width="1.4" />
<line x1="127.24" y1="8.00" x2="127.24" y2="13.00" stroke="#000" stroke-width="1.4" />
<line x1="127.24" y1="177.50" x2="127.24" y2="172.50" stroke="#000" stroke-width="1.4" />
<line x1="127.24" y1="177.50" x2="127.24" y2="182.50" stroke="#000" stroke-width="1.4" />
<line x1="127.24" y1="250.40" x2="127.24" y2="245.40" stroke="#000" stroke-width="1.4" />
<line x1="190.98" y1="8.00" x2="190.98" y2="13.00" stroke="#000" stroke-width="1.4" />
<line x1="190.98" y1="177.50" x2="190.98" y2="172.50" stroke="#000" stroke-width="1.4" />
<line x1="190.98" y1="177.50" x2="190.98" y2="182.50" stroke="#000" stroke-width="1.4" />
<line x1="190.98" y1="250.40" x2="190.98" y2="245.40" stroke="#000" stroke-width="1.4" />
<line x1="254.72" y1="8.00" x2="254.72" y2="13.00" stroke="#000" stroke-width="1.4" />
<line x1="254.72" y1="177.50" x2="254.72" y2="172.50" stroke="#000" stroke-width="1.4" />
<line x1="254.72" y1="177.50" x2="254.72" y2="182.50" stroke="#000" stroke-width="1.4" />
<line x1="254.72" y1="250.40" x2="254.72" y2="245.40" stroke="#000" stroke-width="1.4" />
<line x1="318.46" y1="8.00" x2="318.46" y2="13.00" stroke="#000" stroke-width="1.4" />
<line x1="318.46" y1="177.50" x2="318.46" y2="172.50" stroke="#000" stroke-width="1.4" />
<line x1="318.46" y1="177.50" x2="318.46" y2="182.50" stroke="#000" stroke-width="1.4" />
<line x1="318.46" y1="250.40" x2="318.46" y2="245.40" stroke="#000" stroke-width="1.4" />
<line x1="63.50" y1="8.00" x2="68.50" y2="8.00" stroke="#000" stroke-width="1.4" />
<line x1="350.30" y1="8.00" x2="345.30" y2="8.00" stroke="#000" stroke-width="1.4" />
<line x1="63.50" y1="89.00" x2="68.50" y2="89.00" stroke="#000" stroke-width="1.4" />
<line x1="350.30" y1="89.00" x2="345.30" y2="89.00" stroke="#000" stroke-width="1.4" />
<line x1="63.50" y1="170.00" x2="68.50" y2="170.00" stroke="#000" stroke-width="1.4" />
<line x1="350.30" y1="170.00" x2="345.30" y2="170.00" stroke="#000" stroke-width="1.4" />
<line x1="63.50" y1="64.62" x2="66.30" y2="64.62" stroke="#000" stroke-width="1.2" />
<line x1="350.30" y1="64.62" x2="347.50" y2="64.62" stroke="#000" stroke-width="1.2" />
<line x1="63.50" y1="50.35" x2="66.30" y2="50.35" stroke="#000" stroke-width="1.2" />
<line x1="350.30" y1="50.35" x2="347.50" y2="50.35" stroke="#000" stroke-width="1.2" />
<line x1="63.50" y1="40.23" x2="66.30" y2="40.23" stroke="#000" stroke-width="1.2" />
<line x1="350.30" y1="40.23" x2="347.50" y2="40.23" stroke="#000" stroke-width="1.2" />
<line x1="63.50" y1="32.38" x2="66.30" y2="32.38" stroke="#000" stroke-width="1.2" />
<line x1="350.30" y1="32.38" x2="347.50" y2="32.38" stroke="#000" stroke-width="1.2" />
<line x1="63.50" y1="25.97" x2="66.30" y2="25.97" stroke="#000" stroke-width="1.2" />
<line x1="350.30" y1="25.97" x2="347.50" y2="25.97" stroke="#000" stroke-width="1.2" />
<line x1="63.50" y1="20.55" x2="66.30" y2="20.55" stroke="#000" stroke-width="1.2" />
<line x1="350.30" y1="20.55" x2="347.50" y2="20.55" stroke="#000" stroke-width="1.2" />
<line x1="63.50" y1="15.85" x2="66.30" y2="15.85" stroke="#000" stroke-width="1.2" />
<line x1="350.30" y1="15.85" x2="347.50" y2="15.85" stroke="#000" stroke-width="1.2" />
<line x1="63.50" y1="11.71" x2="66.30" y2="11.71" stroke="#000" stroke-width="1.2" />
<line x1="350.30" y1="11.71" x2="347.50" y2="11.71" stroke="#000" stroke-width="1.2" />
<line x1="63.50" y1="145.62" x2="66.30" y2="145.62" stroke="#000" stroke-width="1.2" />
<line x1="350.30" y1="145.62" x2="347.50" y2="145.62" stroke="#000" stroke-width="1.2" />
<line x1="63.50" y1="131.35" x2="66.30" y2="131.35" stroke="#000" stroke-width="1.2" />
<line x1="350.30" y1="131.35" x2="347.50" y2="131.35" stroke="#000" stroke-width="1.2" />
<line x1="63.50" y1="121.23" x2="66.30" y2="121.23" stroke="#000" stroke-width="1.2" />
<line x1="350.30" y1="121.23" x2="347.50" y2="121.23" stroke="#000" stroke-width="1.2" />
<line x1="63.50" y1="113.38" x2="66.30" y2="113.38" stroke="#000" stroke-width="1.2" />
<line x1="350.30" y1="113.38" x2="347.50" y2="113.38" stroke="#000" stroke-width="1.2" />
<line x1="63.50" y1="106.97" x2="66.30" y2="106.97" stroke="#000" stroke-width="1.2" />
<line x1="350.30" y1="106.97" x2="347.50" y2="106.97" stroke="#000" stroke-width="1.2" />
<line x1="63.50" y1="101.55" x2="66.30" y2="101.55" stroke="#000" stroke-width="1.2" />
<line x1="350.30" y1="101.55" x2="347.50" y2="101.55" stroke="#000" stroke-width="1.2" />
<line x1="63.50" y1="96.85" x2="66.30" y2="96.85" stroke="#000" stroke-width="1.2" />
<line x1="350.30" y1="96.85" x2="347.50" y2="96.85" stroke="#000" stroke-width="1.2" />
<line x1="63.50" y1="92.71" x2="66.30" y2="92.71" stroke="#000" stroke-width="1.2" />
<line x1="350.30" y1="92.71" x2="347.50" y2="92.71" stroke="#000" stroke-width="1.2" />
<line x1="63.50" y1="173.71" x2="66.30" y2="173.71" stroke="#000" stroke-width="1.2" />
<line x1="350.30" y1="173.71" x2="347.50" y2="173.71" stroke="#000" stroke-width="1.2" />
<line x1="63.50" y1="191.60" x2="68.50" y2="191.60" stroke="#000" stroke-width="1.4" />
<line x1="350.30" y1="191.60" x2="345.30" y2="191.60" stroke="#000" stroke-width="1.4" />
<line x1="63.50" y1="214.60" x2="68.50" y2="214.60" stroke="#000" stroke-width="1.4" />
<line x1="350.30" y1="214.60" x2="345.30" y2="214.60" stroke="#000" stroke-width="1.4" />
<line x1="63.50" y1="237.60" x2="68.50" y2="237.60" stroke="#000" stroke-width="1.4" />
<line x1="350.30" y1="237.60" x2="345.30" y2="237.60" stroke="#000" stroke-width="1.4" />
<rect x="63.50" y="8.00" width="286.80" height="242.40" fill="none" stroke="#000" stroke-width="1.4"/>
<line x1="63.50" y1="177.50" x2="350.30" y2="177.50" stroke="#000" stroke-width="1.4" />
<line x1="86.30" y1="319.00" x2="86.30" y2="324.00" stroke="#000" stroke-width="1.4" />
<line x1="86.30" y1="486.40" x2="86.30" y2="481.40" stroke="#000" stroke-width="1.4" />
<line x1="86.30" y1="486.40" x2="86.30" y2="491.40" stroke="#000" stroke-width="1.4" />
<line x1="86.30" y1="559.30" x2="86.30" y2="554.30" stroke="#000" stroke-width="1.4" />
<line x1="184.50" y1="319.00" x2="184.50" y2="324.00" stroke="#000" stroke-width="1.4" />
<line x1="184.50" y1="486.40" x2="184.50" y2="481.40" stroke="#000" stroke-width="1.4" />
<line x1="184.50" y1="486.40" x2="184.50" y2="491.40" stroke="#000" stroke-width="1.4" />
<line x1="184.50" y1="559.30" x2="184.50" y2="554.30" stroke="#000" stroke-width="1.4" />
<line x1="282.60" y1="319.00" x2="282.60" y2="324.00" stroke="#000" stroke-width="1.4" />
<line x1="282.60" y1="486.40" x2="282.60" y2="481.40" stroke="#000" stroke-width="1.4" />
<line x1="282.60" y1="486.40" x2="282.60" y2="491.40" stroke="#000" stroke-width="1.4" />
<line x1="282.60" y1="559.30" x2="282.60" y2="554.30" stroke="#000" stroke-width="1.4" />
<line x1="66.60" y1="356.20" x2="71.60" y2="356.20" stroke="#000" stroke-width="1.4" />
<line x1="350.30" y1="356.20" x2="345.30" y2="356.20" stroke="#000" stroke-width="1.4" />
<line x1="66.60" y1="402.70" x2="71.60" y2="402.70" stroke="#000" stroke-width="1.4" />
<line x1="350.30" y1="402.70" x2="345.30" y2="402.70" stroke="#000" stroke-width="1.4" />
<line x1="66.60" y1="449.20" x2="71.60" y2="449.20" stroke="#000" stroke-width="1.4" />
<line x1="350.30" y1="449.20" x2="345.30" y2="449.20" stroke="#000" stroke-width="1.4" />
<line x1="66.60" y1="500.40" x2="71.60" y2="500.40" stroke="#000" stroke-width="1.4" />
<line x1="350.30" y1="500.40" x2="345.30" y2="500.40" stroke="#000" stroke-width="1.4" />
<line x1="66.60" y1="523.40" x2="71.60" y2="523.40" stroke="#000" stroke-width="1.4" />
<line x1="350.30" y1="523.40" x2="345.30" y2="523.40" stroke="#000" stroke-width="1.4" />
<line x1="66.60" y1="546.40" x2="71.60" y2="546.40" stroke="#000" stroke-width="1.4" />
<line x1="350.30" y1="546.40" x2="345.30" y2="546.40" stroke="#000" stroke-width="1.4" />
<rect x="66.60" y="319.00" width="283.70" height="240.30" fill="none" stroke="#000" stroke-width="1.4"/>
<line x1="66.60" y1="486.40" x2="350.30" y2="486.40" stroke="#000" stroke-width="1.4" />
<text x="34.80" y="13.60" font-family="Liberation Serif" font-size="16.70" textLength="15.84" lengthAdjust="spacingAndGlyphs">10</text>
<text x="51.80" y="7.60" font-family="Liberation Serif" font-size="11.70" textLength="5.21" lengthAdjust="spacingAndGlyphs">0</text>
<text x="24.40" y="94.80" font-family="Liberation Serif" font-size="16.70" textLength="16.63" lengthAdjust="spacingAndGlyphs">10</text>
<text x="51.40" y="88.40" font-family="Liberation Serif" font-size="11.70" textLength="6.32" lengthAdjust="spacingAndGlyphs">1</text>
<text x="25.00" y="176.00" font-family="Liberation Serif" font-size="16.70" textLength="15.89" lengthAdjust="spacingAndGlyphs">10</text>
<text x="51.40" y="170.00" font-family="Liberation Serif" font-size="11.70" textLength="6.35" lengthAdjust="spacingAndGlyphs">2</text>
<text x="37.00" y="197.40" font-family="Liberation Serif" font-size="16.70" textLength="20.66" lengthAdjust="spacingAndGlyphs">2.5</text>
<text x="37.00" y="221.00" font-family="Liberation Serif" font-size="16.70" textLength="21.04" lengthAdjust="spacingAndGlyphs">0.0</text>
<text x="37.60" y="243.60" font-family="Liberation Serif" font-size="16.70" textLength="19.43" lengthAdjust="spacingAndGlyphs">2.5</text>
<text x="59.80" y="268.80" font-family="Liberation Serif" font-size="16.70" textLength="7.48" lengthAdjust="spacingAndGlyphs">0</text>
<text x="123.60" y="268.20" font-family="Liberation Serif" font-size="16.70" textLength="7.64" lengthAdjust="spacingAndGlyphs">2</text>
<text x="186.70" y="268.20" font-family="Liberation Serif" font-size="16.70" textLength="8.35" lengthAdjust="spacingAndGlyphs">4</text>
<text x="250.40" y="268.60" font-family="Liberation Serif" font-size="16.70" textLength="8.35" lengthAdjust="spacingAndGlyphs">6</text>
<text x="314.20" y="268.60" font-family="Liberation Serif" font-size="16.70" textLength="8.35" lengthAdjust="spacingAndGlyphs">8</text>
<text x="126.20" y="291.00" font-family="Liberation Serif" font-size="18.00" textLength="160.21" lengthAdjust="spacingAndGlyphs">Baseline length (G<tspan font-style="italic">λ</tspan>)</text>
<text x="0" y="0" font-family="Liberation Serif" font-size="18.00" textLength="156.81" lengthAdjust="spacingAndGlyphs" transform="translate(14.00,171.80) rotate(-90)">Vis. Amplitude (Jy)</text>
<text x="0" y="0" font-family="Liberation Serif" font-size="18.00" textLength="71.82" lengthAdjust="spacingAndGlyphs" transform="translate(15.00,250.00) rotate(-90)">Residuals</text>
<text x="291.60" y="35.70" font-family="Liberation Mono" font-size="14.70" textLength="42.88" lengthAdjust="spacingAndGlyphs">PRIMO</text>
<text x="291.80" y="60.00" font-family="Liberation Serif" font-size="16.80" textLength="31.03" lengthAdjust="spacingAndGlyphs">data</text>
<text x="36.40" y="362.60" font-family="Liberation Serif" font-size="16.70" textLength="25.53" lengthAdjust="spacingAndGlyphs">100</text>
<text x="53.80" y="408.40" font-family="Liberation Serif" font-size="16.70" textLength="8.11" lengthAdjust="spacingAndGlyphs">0</text>
<text x="36.80" y="455.60" font-family="Liberation Serif" font-size="16.70" textLength="25.13" lengthAdjust="spacingAndGlyphs">100</text>
<text x="40.60" y="506.00" font-family="Liberation Serif" font-size="16.70" textLength="21.28" lengthAdjust="spacingAndGlyphs">2.5</text>
<text x="40.20" y="529.20" font-family="Liberation Serif" font-size="16.70" textLength="21.48" lengthAdjust="spacingAndGlyphs">0.0</text>
<text x="40.60" y="552.00" font-family="Liberation Serif" font-size="16.70" textLength="21.28" lengthAdjust="spacingAndGlyphs">2.5</text>
<text x="77.60" y="576.00" font-family="Liberation Serif" font-size="16.70" textLength="16.29" lengthAdjust="spacingAndGlyphs">10</text>
<text x="176.40" y="576.00" font-family="Liberation Serif" font-size="16.70" textLength="16.21" lengthAdjust="spacingAndGlyphs">15</text>
<text x="274.80" y="576.00" font-family="Liberation Serif" font-size="16.70" textLength="15.69" lengthAdjust="spacingAndGlyphs">20</text>
<text x="133.00" y="599.00" font-family="Liberation Serif" font-size="18.00" textLength="150.60" lengthAdjust="spacingAndGlyphs">Circumference (G<tspan font-style="italic">λ</tspan>)</text>
<text x="0" y="0" font-family="Liberation Serif" font-size="18.00" textLength="153.01" lengthAdjust="spacingAndGlyphs" transform="translate(13.60,479.60) rotate(-90)">Closure Phase (deg)</text>
<text x="0" y="0" font-family="Liberation Serif" font-size="18.00" textLength="70.82" lengthAdjust="spacingAndGlyphs" transform="translate(18.80,557.80) rotate(-90)">Residuals</text>
<text x="292.40" y="444.40" font-family="Liberation Mono" font-size="14.70" textLength="42.46" lengthAdjust="spacingAndGlyphs">PRIMO</text>
<text x="292.40" y="467.90" font-family="Liberation Serif" font-size="16.80" textLength="31.82" lengthAdjust="spacingAndGlyphs">data</text>
<line x1="42.10" y1="86.10" x2="50.30" y2="86.10" stroke="#000" stroke-width="1.1" />
<line x1="41.90" y1="166.50" x2="50.50" y2="166.50" stroke="#000" stroke-width="1.1" />
<line x1="25.30" y1="239.00" x2="35.10" y2="239.00" stroke="#000" stroke-width="1.1" />
<line x1="25.40" y1="450.90" x2="35.30" y2="450.90" stroke="#000" stroke-width="1.1" />
<line x1="29.10" y1="547.30" x2="39.00" y2="547.30" stroke="#000" stroke-width="1.1" />
<circle cx="275.1" cy="29.9" r="1.45" fill="#f00"/>
<circle cx="275.1" cy="53.9" r="1.45" fill="#00f"/>
<circle cx="276.1" cy="438.8" r="1.45" fill="#f00"/>
<circle cx="276.1" cy="463.0" r="1.45" fill="#00f"/>
</svg>
</body></html>
